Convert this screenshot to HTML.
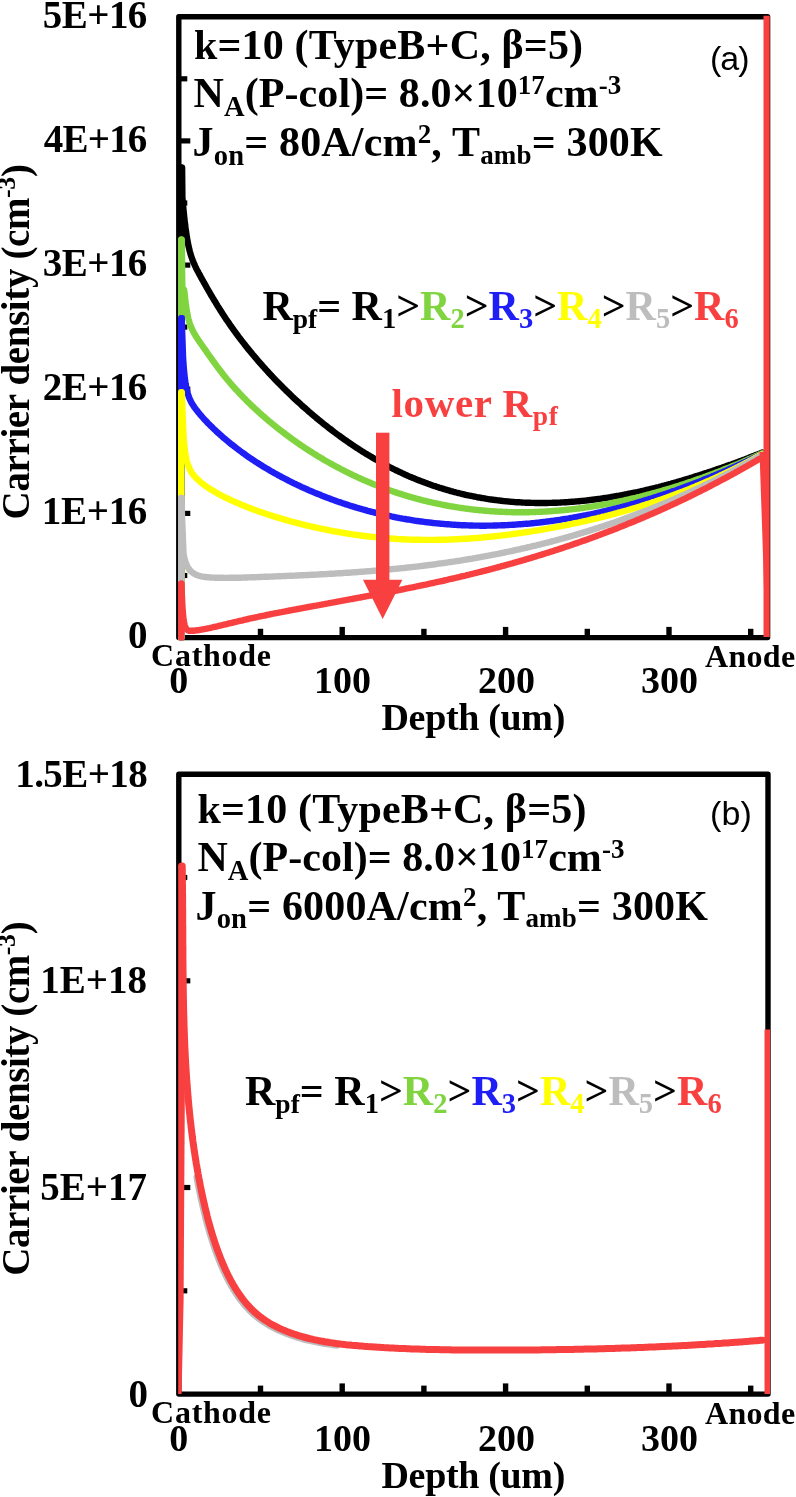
<!DOCTYPE html>
<html><head><meta charset="utf-8"><style>
html,body{margin:0;padding:0;background:#fff;}
svg{display:block;}
</style></head><body>
<svg width="796" height="1497" viewBox="0 0 796 1497">
<rect width="796" height="1497" fill="#fff"/>
<rect x="178.8" y="16.75" width="588.8" height="620.85" fill="none" stroke="#000" stroke-width="5.4" stroke-linejoin="round"/><line x1="178.8" y1="78.8" x2="187.3" y2="78.8" stroke="#000" stroke-width="5.2"/><line x1="178.8" y1="140.9" x2="190.3" y2="140.9" stroke="#000" stroke-width="5.2"/><line x1="178.8" y1="203.0" x2="187.3" y2="203.0" stroke="#000" stroke-width="5.2"/><line x1="178.8" y1="265.1" x2="190.3" y2="265.1" stroke="#000" stroke-width="5.2"/><line x1="178.8" y1="327.1" x2="187.3" y2="327.1" stroke="#000" stroke-width="5.2"/><line x1="178.8" y1="389.2" x2="190.3" y2="389.2" stroke="#000" stroke-width="5.2"/><line x1="178.8" y1="451.3" x2="187.3" y2="451.3" stroke="#000" stroke-width="5.2"/><line x1="178.8" y1="513.4" x2="190.3" y2="513.4" stroke="#000" stroke-width="5.2"/><line x1="178.8" y1="575.5" x2="187.3" y2="575.5" stroke="#000" stroke-width="5.2"/><line x1="260.5" y1="637.6" x2="260.5" y2="628.8" stroke="#000" stroke-width="5.4"/><line x1="342.2" y1="637.6" x2="342.2" y2="626.9" stroke="#000" stroke-width="5.4"/><line x1="423.9" y1="637.6" x2="423.9" y2="628.8" stroke="#000" stroke-width="5.4"/><line x1="505.6" y1="637.6" x2="505.6" y2="626.9" stroke="#000" stroke-width="5.4"/><line x1="587.3" y1="637.6" x2="587.3" y2="628.8" stroke="#000" stroke-width="5.4"/><line x1="669.0" y1="637.6" x2="669.0" y2="626.9" stroke="#000" stroke-width="5.4"/><line x1="750.7" y1="637.6" x2="750.7" y2="628.8" stroke="#000" stroke-width="5.4"/><line x1="181.3" y1="167.6" x2="181.3" y2="637.5" stroke="#000" stroke-width="6.6" stroke-linecap="round"/><path d="M182.1,167.6 L182.4,197.8 L182.4,197.8 L182.4,197.8 L182.4,197.9 L182.4,197.9 L182.4,198.0 L182.4,198.1 L182.4,198.2 L182.5,198.4 L182.5,198.5 L182.5,198.7 L182.5,198.9 L182.5,199.1 L182.5,199.3 L182.6,199.6 L182.6,199.8 L182.6,200.1 L182.6,200.4 L182.7,200.7 L182.7,201.0 L182.7,201.4 L182.7,201.7 L182.8,202.1 L182.8,202.5 L182.9,202.9 L182.9,203.4 L182.9,203.8 L183.0,204.3 L183.0,204.7 L183.1,205.2 L183.1,205.7 L183.2,206.3 L183.2,206.8 L183.3,207.3 L183.3,207.9 L183.4,208.5 L183.4,209.1 L183.5,209.7 L183.5,210.3 L183.6,210.9 L183.7,211.5 L183.7,212.2 L183.8,212.8 L183.9,213.5 L183.9,214.2 L184.0,214.8 L184.1,215.5 L184.2,216.2 L184.2,216.9 L184.3,217.6 L184.4,218.4 L184.5,219.1 L184.5,219.8 L184.6,220.5 L184.7,221.3 L184.8,222.0 L184.9,222.8 L185.0,223.5 L185.1,224.2 L185.2,225.0 L185.3,225.7 L185.3,226.5 L185.4,227.2 L185.5,228.0 L185.6,228.8 L185.7,229.5 L185.9,230.3 L186.0,231.0 L186.1,231.8 L186.2,232.5 L186.3,233.3 L186.4,234.0 L186.5,234.7 L186.6,235.5 L186.7,236.2 L186.9,236.9 L187.0,237.7 L187.1,238.4 L187.2,239.1 L187.3,239.8 L187.5,240.5 L187.6,241.2 L187.7,241.9 L187.9,242.6 L188.0,243.3 L188.1,244.0 L188.3,244.7 L188.4,245.3 L188.5,246.0 L188.7,246.6 L188.8,247.3 L189.0,247.9 L189.1,248.5 L189.3,249.1 L189.4,249.7 L189.6,250.3 L189.7,250.9 L189.9,251.5 L190.0,252.1 L190.2,252.6 L190.3,253.2 L190.5,253.7 L190.6,254.3 L190.8,254.8 L191.0,255.4 L191.1,255.9 L191.3,256.4 L191.5,256.9 L191.6,257.4 L191.8,257.9 L192.0,258.4 L192.2,258.9 L192.3,259.4 L192.5,259.8 L192.7,260.3 L192.9,260.8 L193.1,261.2 L193.3,261.7 L193.4,262.2 L193.6,262.6 L193.8,263.1 L194.0,263.5 L194.2,263.9 L194.4,264.4 L194.6,264.8 L194.8,265.3 L195.0,265.7 L195.2,266.1 L195.4,266.5 L195.6,267.0 L195.8,267.4 L196.0,267.8 L196.2,268.2 L196.4,268.7 L196.6,269.1 L196.8,269.5 L197.1,269.9 L197.3,270.3 L197.5,270.8 L197.7,271.2 L197.9,271.6 L198.2,272.0 L198.4,272.4 L198.6,272.9 L198.8,273.3 L199.1,273.7 L199.3,274.1 L199.5,274.6 L199.8,275.0 L200.0,275.4 L201.3,277.9 L202.7,280.3 L204.0,282.7 L205.4,285.1 L206.7,287.5 L208.0,289.8 L209.4,292.2 L210.7,294.5 L212.1,296.7 L213.4,299.0 L214.8,301.2 L216.1,303.4 L217.4,305.6 L218.8,307.8 L220.1,309.9 L221.5,312.0 L222.8,314.1 L224.1,316.1 L225.5,318.2 L226.8,320.2 L228.2,322.1 L229.5,324.1 L230.8,326.0 L232.2,327.9 L233.5,329.8 L234.9,331.6 L236.2,333.5 L237.6,335.3 L238.9,337.1 L240.2,338.8 L241.6,340.6 L242.9,342.3 L244.3,344.0 L245.6,345.7 L246.9,347.4 L248.3,349.1 L249.6,350.7 L251.0,352.3 L252.3,354.0 L253.7,355.6 L255.0,357.2 L256.3,358.7 L257.7,360.3 L259.0,361.8 L260.4,363.4 L261.7,364.9 L263.0,366.4 L264.4,367.9 L265.7,369.4 L267.1,370.9 L268.4,372.3 L269.7,373.8 L271.1,375.2 L272.4,376.6 L273.8,378.1 L275.1,379.5 L276.5,380.9 L277.8,382.2 L279.1,383.6 L280.5,385.0 L281.8,386.3 L283.2,387.7 L284.5,389.0 L285.8,390.3 L287.2,391.6 L288.5,392.9 L289.9,394.2 L291.2,395.5 L292.5,396.8 L293.9,398.1 L295.2,399.3 L296.6,400.6 L297.9,401.8 L299.3,403.0 L300.6,404.2 L301.9,405.5 L303.3,406.7 L304.6,407.8 L306.0,409.0 L307.3,410.2 L308.6,411.4 L310.0,412.5 L311.3,413.7 L312.7,414.8 L314.0,416.0 L315.4,417.1 L316.7,418.2 L318.0,419.3 L319.4,420.4 L320.7,421.5 L322.1,422.6 L323.4,423.7 L324.7,424.7 L326.1,425.8 L327.4,426.8 L328.8,427.9 L330.1,428.9 L331.4,429.9 L332.8,431.0 L334.1,432.0 L335.5,433.0 L336.8,434.0 L338.2,435.0 L339.5,435.9 L340.8,436.9 L342.2,437.9 L343.5,438.8 L344.9,439.8 L346.2,440.7 L347.5,441.6 L348.9,442.6 L350.2,443.5 L351.6,444.4 L352.9,445.3 L354.2,446.2 L355.6,447.1 L356.9,448.0 L358.3,448.8 L359.6,449.7 L361.0,450.6 L362.3,451.4 L363.6,452.2 L365.0,453.1 L366.3,453.9 L367.7,454.7 L369.0,455.5 L370.3,456.3 L371.7,457.1 L373.0,457.9 L374.4,458.7 L375.7,459.5 L377.1,460.2 L378.4,461.0 L379.7,461.7 L381.1,462.5 L382.4,463.2 L383.8,463.9 L385.1,464.7 L386.4,465.4 L387.8,466.1 L389.1,466.8 L390.5,467.5 L391.8,468.2 L393.1,468.8 L394.5,469.5 L395.8,470.2 L397.2,470.8 L398.5,471.5 L399.9,472.1 L401.2,472.7 L402.5,473.3 L403.9,474.0 L405.2,474.6 L406.6,475.2 L407.9,475.8 L409.2,476.4 L410.6,476.9 L411.9,477.5 L413.3,478.1 L414.6,478.6 L415.9,479.2 L417.3,479.7 L418.6,480.2 L420.0,480.8 L421.3,481.3 L422.7,481.8 L424.0,482.3 L425.3,482.8 L426.7,483.3 L428.0,483.8 L429.4,484.3 L430.7,484.8 L432.0,485.2 L433.4,485.7 L434.7,486.1 L436.1,486.6 L437.4,487.0 L438.7,487.4 L440.1,487.9 L441.4,488.3 L442.8,488.7 L444.1,489.1 L445.5,489.5 L446.8,489.9 L448.1,490.3 L449.5,490.7 L450.8,491.1 L452.2,491.4 L453.5,491.8 L454.8,492.1 L456.2,492.5 L457.5,492.8 L458.9,493.2 L460.2,493.5 L461.6,493.8 L462.9,494.1 L464.2,494.5 L465.6,494.8 L466.9,495.1 L468.3,495.4 L469.6,495.6 L470.9,495.9 L472.3,496.2 L473.6,496.5 L475.0,496.7 L476.3,497.0 L477.6,497.3 L479.0,497.5 L480.3,497.7 L481.7,498.0 L483.0,498.2 L484.4,498.4 L485.7,498.7 L487.0,498.9 L488.4,499.1 L489.7,499.3 L491.1,499.5 L492.4,499.7 L493.7,499.8 L495.1,500.0 L496.4,500.2 L497.8,500.4 L499.1,500.5 L500.4,500.7 L501.8,500.8 L503.1,501.0 L504.5,501.1 L505.8,501.3 L507.2,501.4 L508.5,501.5 L509.8,501.6 L511.2,501.8 L512.5,501.9 L513.9,502.0 L515.2,502.1 L516.5,502.2 L517.9,502.3 L519.2,502.3 L520.6,502.4 L521.9,502.5 L523.3,502.6 L524.6,502.6 L525.9,502.7 L527.3,502.7 L528.6,502.8 L530.0,502.8 L531.3,502.9 L532.6,502.9 L534.0,502.9 L535.3,503.0 L536.7,503.0 L538.0,503.0 L539.3,503.0 L540.7,503.0 L542.0,503.0 L543.4,503.0 L544.7,503.0 L546.1,503.0 L547.4,503.0 L548.7,502.9 L550.1,502.9 L551.4,502.9 L552.8,502.8 L554.1,502.8 L555.4,502.7 L556.8,502.7 L558.1,502.6 L559.5,502.6 L560.8,502.5 L562.1,502.4 L563.5,502.4 L564.8,502.3 L566.2,502.2 L567.5,502.1 L568.9,502.0 L570.2,501.9 L571.5,501.8 L572.9,501.7 L574.2,501.6 L575.6,501.5 L576.9,501.4 L578.2,501.3 L579.6,501.2 L580.9,501.0 L582.3,500.9 L583.6,500.8 L584.9,500.6 L586.3,500.5 L587.6,500.3 L589.0,500.2 L590.3,500.0 L591.7,499.8 L593.0,499.7 L594.3,499.5 L595.7,499.3 L597.0,499.2 L598.4,499.0 L599.7,498.8 L601.0,498.6 L602.4,498.4 L603.7,498.2 L605.1,498.0 L606.4,497.8 L607.8,497.6 L609.1,497.4 L610.4,497.2 L611.8,496.9 L613.1,496.7 L614.5,496.5 L615.8,496.2 L617.1,496.0 L618.5,495.8 L619.8,495.5 L621.2,495.3 L622.5,495.0 L623.8,494.8 L625.2,494.5 L626.5,494.3 L627.9,494.0 L629.2,493.7 L630.6,493.5 L631.9,493.2 L633.2,492.9 L634.6,492.6 L635.9,492.3 L637.3,492.1 L638.6,491.8 L639.9,491.5 L641.3,491.2 L642.6,490.9 L644.0,490.6 L645.3,490.2 L646.6,489.9 L648.0,489.6 L649.3,489.3 L650.7,489.0 L652.0,488.7 L653.4,488.3 L654.7,488.0 L656.0,487.7 L657.4,487.3 L658.7,487.0 L660.1,486.6 L661.4,486.3 L662.7,485.9 L664.1,485.6 L665.4,485.2 L666.8,484.9 L668.1,484.5 L669.5,484.1 L670.8,483.8 L672.1,483.4 L673.5,483.0 L674.8,482.6 L676.2,482.3 L677.5,481.9 L678.8,481.5 L680.2,481.1 L681.5,480.7 L682.9,480.3 L684.2,479.9 L685.5,479.5 L686.9,479.1 L688.2,478.7 L689.6,478.3 L690.9,477.9 L692.3,477.5 L693.6,477.1 L694.9,476.6 L696.3,476.2 L697.6,475.8 L699.0,475.4 L700.3,474.9 L701.6,474.5 L703.0,474.1 L704.3,473.6 L705.7,473.2 L707.0,472.8 L708.3,472.3 L709.7,471.9 L711.0,471.4 L712.4,471.0 L713.7,470.5 L715.1,470.0 L716.4,469.6 L717.7,469.1 L719.1,468.7 L720.4,468.2 L721.8,467.7 L723.1,467.2 L724.4,466.8 L725.8,466.3 L727.1,465.8 L728.5,465.3 L729.8,464.9 L731.2,464.4 L732.5,463.9 L733.8,463.4 L735.2,462.9 L736.5,462.4 L737.9,461.9 L739.2,461.4 L740.5,460.9 L741.9,460.4 L743.2,459.9 L744.6,459.4 L745.9,458.9 L747.2,458.4 L748.6,457.9 L749.9,457.3 L751.3,456.8 L752.6,456.3 L754.0,455.8 L755.3,455.3 L756.6,454.7 L758.0,454.2 L759.3,453.7 L760.7,453.2 L762.0,452.6" fill="none" stroke="#000" stroke-width="6.4" stroke-linejoin="round" stroke-linecap="round"/><line x1="181.3" y1="239.6" x2="181.3" y2="637.5" stroke="#80D43F" stroke-width="6.6" stroke-linecap="round"/><path d="M181.7,239.6 L182.1,270.0 L182.1,270.1 L182.1,270.3 L182.1,270.8 L182.1,271.4 L182.1,272.1 L182.1,273.0 L182.1,274.0 L182.2,275.1 L182.2,276.3 L182.2,277.6 L182.2,279.0 L182.2,280.4 L182.2,281.9 L182.3,283.3 L182.3,284.8 L182.3,286.2 L182.3,287.5 L182.4,288.8 L182.4,290.1 L182.4,291.2 L182.5,292.2 L182.5,293.1 L182.5,293.9 L182.6,294.6 L182.6,295.1 L182.6,295.5 L182.7,295.8 L182.7,295.9 L182.8,295.9 L182.8,295.8 L182.9,295.6 L182.9,295.2 L183.0,294.8 L183.0,294.3 L183.1,293.7 L183.1,293.1 L183.2,292.5 L183.3,291.9 L183.3,291.3 L183.4,290.7 L183.5,290.2 L183.5,289.8 L183.6,289.5 L183.7,289.3 L183.7,289.2 L183.8,289.2 L183.9,289.4 L184.0,289.5 L184.0,289.8 L184.1,290.2 L184.2,290.6 L184.3,291.1 L184.4,291.7 L184.5,292.3 L184.5,293.0 L184.6,293.8 L184.7,294.5 L184.8,295.3 L184.9,296.2 L185.0,297.0 L185.1,297.9 L185.2,298.8 L185.3,299.7 L185.4,300.6 L185.5,301.5 L185.6,302.4 L185.7,303.2 L185.8,304.1 L185.9,304.9 L186.1,305.8 L186.2,306.6 L186.3,307.4 L186.4,308.2 L186.5,309.0 L186.6,309.8 L186.8,310.5 L186.9,311.2 L187.0,312.0 L187.1,312.7 L187.3,313.4 L187.4,314.1 L187.5,314.7 L187.7,315.4 L187.8,316.0 L187.9,316.6 L188.1,317.2 L188.2,317.8 L188.3,318.4 L188.5,319.0 L188.6,319.5 L188.8,320.1 L188.9,320.6 L189.1,321.1 L189.2,321.7 L189.4,322.2 L189.5,322.7 L189.7,323.1 L189.8,323.6 L190.0,324.1 L190.2,324.5 L190.3,325.0 L190.5,325.4 L190.7,325.9 L190.8,326.3 L191.0,326.7 L191.2,327.1 L191.3,327.5 L191.5,327.9 L191.7,328.3 L191.9,328.7 L192.0,329.1 L192.2,329.5 L192.4,329.9 L192.6,330.3 L192.8,330.6 L192.9,331.0 L193.1,331.4 L193.3,331.7 L193.5,332.1 L193.7,332.4 L193.9,332.8 L194.1,333.2 L194.3,333.5 L194.5,333.9 L194.7,334.2 L194.9,334.5 L195.1,334.9 L195.3,335.2 L195.5,335.6 L195.7,335.9 L195.9,336.3 L196.1,336.6 L196.4,336.9 L196.6,337.3 L196.8,337.6 L197.0,337.9 L197.2,338.3 L197.5,338.6 L197.7,339.0 L197.9,339.3 L198.1,339.6 L198.4,340.0 L198.6,340.3 L198.8,340.6 L199.1,341.0 L199.3,341.3 L199.5,341.7 L199.8,342.0 L200.0,342.4 L201.3,344.3 L202.7,346.2 L204.0,348.1 L205.4,350.0 L206.7,351.9 L208.0,353.9 L209.4,355.8 L210.7,357.7 L212.1,359.6 L213.4,361.5 L214.8,363.3 L216.1,365.2 L217.4,367.0 L218.8,368.8 L220.1,370.5 L221.5,372.3 L222.8,374.0 L224.1,375.7 L225.5,377.4 L226.8,379.0 L228.2,380.6 L229.5,382.2 L230.8,383.8 L232.2,385.3 L233.5,386.8 L234.9,388.3 L236.2,389.8 L237.6,391.2 L238.9,392.7 L240.2,394.1 L241.6,395.5 L242.9,396.9 L244.3,398.3 L245.6,399.6 L246.9,401.0 L248.3,402.3 L249.6,403.6 L251.0,404.9 L252.3,406.2 L253.7,407.4 L255.0,408.7 L256.3,409.9 L257.7,411.2 L259.0,412.4 L260.4,413.6 L261.7,414.8 L263.0,416.0 L264.4,417.1 L265.7,418.3 L267.1,419.4 L268.4,420.6 L269.7,421.7 L271.1,422.8 L272.4,423.9 L273.8,425.0 L275.1,426.1 L276.5,427.2 L277.8,428.2 L279.1,429.3 L280.5,430.3 L281.8,431.4 L283.2,432.4 L284.5,433.4 L285.8,434.4 L287.2,435.4 L288.5,436.4 L289.9,437.4 L291.2,438.4 L292.5,439.3 L293.9,440.3 L295.2,441.3 L296.6,442.2 L297.9,443.1 L299.3,444.1 L300.6,445.0 L301.9,445.9 L303.3,446.8 L304.6,447.7 L306.0,448.6 L307.3,449.4 L308.6,450.3 L310.0,451.2 L311.3,452.0 L312.7,452.9 L314.0,453.7 L315.4,454.5 L316.7,455.4 L318.0,456.2 L319.4,457.0 L320.7,457.8 L322.1,458.6 L323.4,459.4 L324.7,460.2 L326.1,461.0 L327.4,461.7 L328.8,462.5 L330.1,463.2 L331.4,464.0 L332.8,464.7 L334.1,465.5 L335.5,466.2 L336.8,466.9 L338.2,467.6 L339.5,468.3 L340.8,469.0 L342.2,469.7 L343.5,470.4 L344.9,471.1 L346.2,471.8 L347.5,472.4 L348.9,473.1 L350.2,473.8 L351.6,474.4 L352.9,475.1 L354.2,475.7 L355.6,476.3 L356.9,476.9 L358.3,477.6 L359.6,478.2 L361.0,478.8 L362.3,479.4 L363.6,480.0 L365.0,480.6 L366.3,481.1 L367.7,481.7 L369.0,482.3 L370.3,482.8 L371.7,483.4 L373.0,483.9 L374.4,484.5 L375.7,485.0 L377.1,485.6 L378.4,486.1 L379.7,486.6 L381.1,487.1 L382.4,487.6 L383.8,488.1 L385.1,488.6 L386.4,489.1 L387.8,489.6 L389.1,490.1 L390.5,490.6 L391.8,491.0 L393.1,491.5 L394.5,491.9 L395.8,492.4 L397.2,492.8 L398.5,493.3 L399.9,493.7 L401.2,494.1 L402.5,494.6 L403.9,495.0 L405.2,495.4 L406.6,495.8 L407.9,496.2 L409.2,496.6 L410.6,497.0 L411.9,497.4 L413.3,497.7 L414.6,498.1 L415.9,498.5 L417.3,498.9 L418.6,499.2 L420.0,499.6 L421.3,499.9 L422.7,500.3 L424.0,500.6 L425.3,500.9 L426.7,501.2 L428.0,501.6 L429.4,501.9 L430.7,502.2 L432.0,502.5 L433.4,502.8 L434.7,503.1 L436.1,503.4 L437.4,503.7 L438.7,504.0 L440.1,504.2 L441.4,504.5 L442.8,504.8 L444.1,505.0 L445.5,505.3 L446.8,505.5 L448.1,505.8 L449.5,506.0 L450.8,506.3 L452.2,506.5 L453.5,506.7 L454.8,507.0 L456.2,507.2 L457.5,507.4 L458.9,507.6 L460.2,507.8 L461.6,508.0 L462.9,508.2 L464.2,508.4 L465.6,508.6 L466.9,508.7 L468.3,508.9 L469.6,509.1 L470.9,509.3 L472.3,509.4 L473.6,509.6 L475.0,509.7 L476.3,509.9 L477.6,510.0 L479.0,510.2 L480.3,510.3 L481.7,510.4 L483.0,510.5 L484.4,510.7 L485.7,510.8 L487.0,510.9 L488.4,511.0 L489.7,511.1 L491.1,511.2 L492.4,511.3 L493.7,511.4 L495.1,511.5 L496.4,511.5 L497.8,511.6 L499.1,511.7 L500.4,511.7 L501.8,511.8 L503.1,511.9 L504.5,511.9 L505.8,512.0 L507.2,512.0 L508.5,512.1 L509.8,512.1 L511.2,512.1 L512.5,512.2 L513.9,512.2 L515.2,512.2 L516.5,512.2 L517.9,512.2 L519.2,512.2 L520.6,512.2 L521.9,512.2 L523.3,512.2 L524.6,512.2 L525.9,512.2 L527.3,512.2 L528.6,512.2 L530.0,512.1 L531.3,512.1 L532.6,512.1 L534.0,512.0 L535.3,512.0 L536.7,511.9 L538.0,511.9 L539.3,511.8 L540.7,511.8 L542.0,511.7 L543.4,511.6 L544.7,511.6 L546.1,511.5 L547.4,511.4 L548.7,511.3 L550.1,511.2 L551.4,511.1 L552.8,511.0 L554.1,510.9 L555.4,510.8 L556.8,510.7 L558.1,510.6 L559.5,510.5 L560.8,510.4 L562.1,510.3 L563.5,510.1 L564.8,510.0 L566.2,509.9 L567.5,509.7 L568.9,509.6 L570.2,509.4 L571.5,509.3 L572.9,509.1 L574.2,509.0 L575.6,508.8 L576.9,508.6 L578.2,508.5 L579.6,508.3 L580.9,508.1 L582.3,508.0 L583.6,507.8 L584.9,507.6 L586.3,507.4 L587.6,507.2 L589.0,507.0 L590.3,506.8 L591.7,506.6 L593.0,506.4 L594.3,506.2 L595.7,505.9 L597.0,505.7 L598.4,505.5 L599.7,505.3 L601.0,505.0 L602.4,504.8 L603.7,504.6 L605.1,504.3 L606.4,504.1 L607.8,503.8 L609.1,503.6 L610.4,503.3 L611.8,503.0 L613.1,502.8 L614.5,502.5 L615.8,502.2 L617.1,502.0 L618.5,501.7 L619.8,501.4 L621.2,501.1 L622.5,500.8 L623.8,500.5 L625.2,500.2 L626.5,499.9 L627.9,499.6 L629.2,499.3 L630.6,499.0 L631.9,498.7 L633.2,498.4 L634.6,498.1 L635.9,497.8 L637.3,497.4 L638.6,497.1 L639.9,496.8 L641.3,496.4 L642.6,496.1 L644.0,495.7 L645.3,495.4 L646.6,495.0 L648.0,494.7 L649.3,494.3 L650.7,494.0 L652.0,493.6 L653.4,493.2 L654.7,492.9 L656.0,492.5 L657.4,492.1 L658.7,491.7 L660.1,491.4 L661.4,491.0 L662.7,490.6 L664.1,490.2 L665.4,489.8 L666.8,489.4 L668.1,489.0 L669.5,488.6 L670.8,488.2 L672.1,487.8 L673.5,487.4 L674.8,486.9 L676.2,486.5 L677.5,486.1 L678.8,485.7 L680.2,485.2 L681.5,484.8 L682.9,484.4 L684.2,483.9 L685.5,483.5 L686.9,483.0 L688.2,482.6 L689.6,482.1 L690.9,481.7 L692.3,481.2 L693.6,480.8 L694.9,480.3 L696.3,479.8 L697.6,479.3 L699.0,478.9 L700.3,478.4 L701.6,477.9 L703.0,477.4 L704.3,476.9 L705.7,476.5 L707.0,476.0 L708.3,475.5 L709.7,475.0 L711.0,474.5 L712.4,474.0 L713.7,473.5 L715.1,473.0 L716.4,472.4 L717.7,471.9 L719.1,471.4 L720.4,470.9 L721.8,470.4 L723.1,469.8 L724.4,469.3 L725.8,468.8 L727.1,468.2 L728.5,467.7 L729.8,467.2 L731.2,466.6 L732.5,466.1 L733.8,465.5 L735.2,465.0 L736.5,464.4 L737.9,463.9 L739.2,463.3 L740.5,462.7 L741.9,462.2 L743.2,461.6 L744.6,461.0 L745.9,460.4 L747.2,459.9 L748.6,459.3 L749.9,458.7 L751.3,458.1 L752.6,457.5 L754.0,456.9 L755.3,456.3 L756.6,455.8 L758.0,455.2 L759.3,454.5 L760.7,453.9 L762.0,453.3" fill="none" stroke="#80D43F" stroke-width="6.4" stroke-linejoin="round" stroke-linecap="round"/><line x1="181.3" y1="318.3" x2="181.3" y2="637.5" stroke="#1E1EF5" stroke-width="6.6" stroke-linecap="round"/><path d="M181.7,318.3 L183.0,355.8 L183.0,355.8 L183.0,355.8 L183.0,355.9 L183.0,356.0 L183.0,356.1 L183.0,356.3 L183.0,356.5 L183.0,356.7 L183.1,356.9 L183.1,357.2 L183.1,357.4 L183.1,357.7 L183.1,358.1 L183.2,358.4 L183.2,358.8 L183.2,359.2 L183.2,359.6 L183.2,360.1 L183.3,360.5 L183.3,361.0 L183.3,361.5 L183.4,362.0 L183.4,362.5 L183.4,363.0 L183.5,363.6 L183.5,364.1 L183.6,364.7 L183.6,365.3 L183.6,365.8 L183.7,366.4 L183.7,367.0 L183.8,367.6 L183.8,368.3 L183.9,368.9 L183.9,369.5 L184.0,370.1 L184.0,370.7 L184.1,371.4 L184.2,372.0 L184.2,372.6 L184.3,373.2 L184.4,373.9 L184.4,374.5 L184.5,375.1 L184.6,375.7 L184.6,376.4 L184.7,377.0 L184.8,377.6 L184.8,378.2 L184.9,378.8 L185.0,379.4 L185.1,380.0 L185.2,380.6 L185.2,381.1 L185.3,381.7 L185.4,382.3 L185.5,382.9 L185.6,383.4 L185.7,384.0 L185.8,384.5 L185.8,385.1 L185.9,385.6 L186.0,386.1 L186.1,386.6 L186.2,387.1 L186.3,387.6 L186.4,388.1 L186.5,388.6 L186.6,389.1 L186.8,389.6 L186.9,390.1 L187.0,390.5 L187.1,391.0 L187.2,391.4 L187.3,391.9 L187.4,392.3 L187.5,392.7 L187.7,393.2 L187.8,393.6 L187.9,394.0 L188.0,394.4 L188.1,394.8 L188.3,395.2 L188.4,395.6 L188.5,395.9 L188.7,396.3 L188.8,396.7 L188.9,397.1 L189.1,397.4 L189.2,397.8 L189.3,398.1 L189.5,398.5 L189.6,398.8 L189.8,399.1 L189.9,399.5 L190.1,399.8 L190.2,400.1 L190.4,400.4 L190.5,400.7 L190.7,401.0 L190.8,401.3 L191.0,401.7 L191.1,402.0 L191.3,402.2 L191.4,402.5 L191.6,402.8 L191.8,403.1 L191.9,403.4 L192.1,403.7 L192.3,404.0 L192.4,404.2 L192.6,404.5 L192.8,404.8 L193.0,405.1 L193.1,405.3 L193.3,405.6 L193.5,405.9 L193.7,406.1 L193.8,406.4 L194.0,406.7 L194.2,406.9 L194.4,407.2 L194.6,407.4 L194.8,407.7 L195.0,408.0 L195.2,408.2 L195.4,408.5 L195.5,408.8 L195.7,409.0 L195.9,409.3 L196.1,409.5 L196.3,409.8 L196.5,410.1 L196.7,410.3 L197.0,410.6 L197.2,410.9 L197.4,411.1 L197.6,411.4 L197.8,411.7 L198.0,411.9 L198.2,412.2 L198.4,412.5 L198.7,412.7 L198.9,413.0 L199.1,413.3 L199.3,413.6 L199.5,413.8 L199.8,414.1 L200.0,414.4 L201.3,415.9 L202.7,417.5 L204.0,419.0 L205.4,420.4 L206.7,421.8 L208.0,423.2 L209.4,424.6 L210.7,425.9 L212.1,427.2 L213.4,428.5 L214.8,429.8 L216.1,431.1 L217.4,432.3 L218.8,433.5 L220.1,434.7 L221.5,435.9 L222.8,437.1 L224.1,438.2 L225.5,439.3 L226.8,440.5 L228.2,441.6 L229.5,442.7 L230.8,443.8 L232.2,444.8 L233.5,445.9 L234.9,446.9 L236.2,448.0 L237.6,449.0 L238.9,450.0 L240.2,451.0 L241.6,452.0 L242.9,453.0 L244.3,453.9 L245.6,454.9 L246.9,455.8 L248.3,456.8 L249.6,457.7 L251.0,458.6 L252.3,459.5 L253.7,460.4 L255.0,461.3 L256.3,462.2 L257.7,463.0 L259.0,463.9 L260.4,464.7 L261.7,465.6 L263.0,466.4 L264.4,467.2 L265.7,468.0 L267.1,468.8 L268.4,469.6 L269.7,470.4 L271.1,471.2 L272.4,471.9 L273.8,472.7 L275.1,473.5 L276.5,474.2 L277.8,474.9 L279.1,475.7 L280.5,476.4 L281.8,477.1 L283.2,477.8 L284.5,478.5 L285.8,479.2 L287.2,479.9 L288.5,480.6 L289.9,481.3 L291.2,482.0 L292.5,482.6 L293.9,483.3 L295.2,483.9 L296.6,484.6 L297.9,485.2 L299.3,485.8 L300.6,486.5 L301.9,487.1 L303.3,487.7 L304.6,488.3 L306.0,488.9 L307.3,489.5 L308.6,490.1 L310.0,490.7 L311.3,491.3 L312.7,491.8 L314.0,492.4 L315.4,493.0 L316.7,493.5 L318.0,494.1 L319.4,494.6 L320.7,495.1 L322.1,495.7 L323.4,496.2 L324.7,496.7 L326.1,497.3 L327.4,497.8 L328.8,498.3 L330.1,498.8 L331.4,499.3 L332.8,499.8 L334.1,500.2 L335.5,500.7 L336.8,501.2 L338.2,501.7 L339.5,502.1 L340.8,502.6 L342.2,503.1 L343.5,503.5 L344.9,503.9 L346.2,504.4 L347.5,504.8 L348.9,505.3 L350.2,505.7 L351.6,506.1 L352.9,506.5 L354.2,506.9 L355.6,507.3 L356.9,507.7 L358.3,508.1 L359.6,508.5 L361.0,508.9 L362.3,509.3 L363.6,509.7 L365.0,510.0 L366.3,510.4 L367.7,510.8 L369.0,511.1 L370.3,511.5 L371.7,511.8 L373.0,512.2 L374.4,512.5 L375.7,512.8 L377.1,513.2 L378.4,513.5 L379.7,513.8 L381.1,514.1 L382.4,514.4 L383.8,514.7 L385.1,515.0 L386.4,515.3 L387.8,515.6 L389.1,515.9 L390.5,516.2 L391.8,516.5 L393.1,516.8 L394.5,517.0 L395.8,517.3 L397.2,517.6 L398.5,517.8 L399.9,518.1 L401.2,518.3 L402.5,518.6 L403.9,518.8 L405.2,519.0 L406.6,519.3 L407.9,519.5 L409.2,519.7 L410.6,519.9 L411.9,520.1 L413.3,520.4 L414.6,520.6 L415.9,520.8 L417.3,521.0 L418.6,521.2 L420.0,521.3 L421.3,521.5 L422.7,521.7 L424.0,521.9 L425.3,522.1 L426.7,522.2 L428.0,522.4 L429.4,522.5 L430.7,522.7 L432.0,522.8 L433.4,523.0 L434.7,523.1 L436.1,523.3 L437.4,523.4 L438.7,523.5 L440.1,523.7 L441.4,523.8 L442.8,523.9 L444.1,524.0 L445.5,524.1 L446.8,524.2 L448.1,524.3 L449.5,524.4 L450.8,524.5 L452.2,524.6 L453.5,524.7 L454.8,524.8 L456.2,524.9 L457.5,525.0 L458.9,525.0 L460.2,525.1 L461.6,525.2 L462.9,525.2 L464.2,525.3 L465.6,525.3 L466.9,525.4 L468.3,525.4 L469.6,525.5 L470.9,525.5 L472.3,525.5 L473.6,525.6 L475.0,525.6 L476.3,525.6 L477.6,525.6 L479.0,525.6 L480.3,525.7 L481.7,525.7 L483.0,525.7 L484.4,525.7 L485.7,525.7 L487.0,525.6 L488.4,525.6 L489.7,525.6 L491.1,525.6 L492.4,525.6 L493.7,525.5 L495.1,525.5 L496.4,525.5 L497.8,525.4 L499.1,525.4 L500.4,525.4 L501.8,525.3 L503.1,525.3 L504.5,525.2 L505.8,525.1 L507.2,525.1 L508.5,525.0 L509.8,524.9 L511.2,524.9 L512.5,524.8 L513.9,524.7 L515.2,524.6 L516.5,524.5 L517.9,524.4 L519.2,524.3 L520.6,524.2 L521.9,524.1 L523.3,524.0 L524.6,523.9 L525.9,523.8 L527.3,523.7 L528.6,523.6 L530.0,523.5 L531.3,523.3 L532.6,523.2 L534.0,523.1 L535.3,522.9 L536.7,522.8 L538.0,522.6 L539.3,522.5 L540.7,522.3 L542.0,522.2 L543.4,522.0 L544.7,521.9 L546.1,521.7 L547.4,521.5 L548.7,521.4 L550.1,521.2 L551.4,521.0 L552.8,520.8 L554.1,520.6 L555.4,520.4 L556.8,520.3 L558.1,520.1 L559.5,519.9 L560.8,519.7 L562.1,519.4 L563.5,519.2 L564.8,519.0 L566.2,518.8 L567.5,518.6 L568.9,518.4 L570.2,518.1 L571.5,517.9 L572.9,517.7 L574.2,517.4 L575.6,517.2 L576.9,517.0 L578.2,516.7 L579.6,516.5 L580.9,516.2 L582.3,516.0 L583.6,515.7 L584.9,515.4 L586.3,515.2 L587.6,514.9 L589.0,514.6 L590.3,514.4 L591.7,514.1 L593.0,513.8 L594.3,513.5 L595.7,513.2 L597.0,512.9 L598.4,512.6 L599.7,512.3 L601.0,512.0 L602.4,511.7 L603.7,511.4 L605.1,511.1 L606.4,510.8 L607.8,510.5 L609.1,510.2 L610.4,509.8 L611.8,509.5 L613.1,509.2 L614.5,508.8 L615.8,508.5 L617.1,508.2 L618.5,507.8 L619.8,507.5 L621.2,507.1 L622.5,506.8 L623.8,506.4 L625.2,506.1 L626.5,505.7 L627.9,505.3 L629.2,505.0 L630.6,504.6 L631.9,504.2 L633.2,503.9 L634.6,503.5 L635.9,503.1 L637.3,502.7 L638.6,502.3 L639.9,501.9 L641.3,501.5 L642.6,501.1 L644.0,500.7 L645.3,500.3 L646.6,499.9 L648.0,499.5 L649.3,499.1 L650.7,498.7 L652.0,498.3 L653.4,497.8 L654.7,497.4 L656.0,497.0 L657.4,496.6 L658.7,496.1 L660.1,495.7 L661.4,495.2 L662.7,494.8 L664.1,494.4 L665.4,493.9 L666.8,493.4 L668.1,493.0 L669.5,492.5 L670.8,492.1 L672.1,491.6 L673.5,491.1 L674.8,490.7 L676.2,490.2 L677.5,489.7 L678.8,489.2 L680.2,488.8 L681.5,488.3 L682.9,487.8 L684.2,487.3 L685.5,486.8 L686.9,486.3 L688.2,485.8 L689.6,485.3 L690.9,484.8 L692.3,484.3 L693.6,483.8 L694.9,483.3 L696.3,482.8 L697.6,482.2 L699.0,481.7 L700.3,481.2 L701.6,480.7 L703.0,480.1 L704.3,479.6 L705.7,479.1 L707.0,478.5 L708.3,478.0 L709.7,477.4 L711.0,476.9 L712.4,476.3 L713.7,475.8 L715.1,475.2 L716.4,474.7 L717.7,474.1 L719.1,473.5 L720.4,473.0 L721.8,472.4 L723.1,471.8 L724.4,471.2 L725.8,470.7 L727.1,470.1 L728.5,469.5 L729.8,468.9 L731.2,468.3 L732.5,467.7 L733.8,467.1 L735.2,466.5 L736.5,465.9 L737.9,465.3 L739.2,464.7 L740.5,464.1 L741.9,463.5 L743.2,462.9 L744.6,462.3 L745.9,461.7 L747.2,461.0 L748.6,460.4 L749.9,459.8 L751.3,459.1 L752.6,458.5 L754.0,457.9 L755.3,457.2 L756.6,456.6 L758.0,456.0 L759.3,455.3 L760.7,454.7 L762.0,454.0" fill="none" stroke="#1E1EF5" stroke-width="6.4" stroke-linejoin="round" stroke-linecap="round"/><line x1="181.3" y1="392.4" x2="181.3" y2="637.5" stroke="#FFFF00" stroke-width="6.6" stroke-linecap="round"/><path d="M181.7,392.4 L183.5,435.4 L183.5,435.4 L183.5,435.5 L183.5,435.5 L183.5,435.6 L183.5,435.7 L183.5,435.8 L183.5,436.0 L183.5,436.2 L183.6,436.4 L183.6,436.6 L183.6,436.8 L183.6,437.1 L183.6,437.3 L183.6,437.6 L183.7,437.9 L183.7,438.2 L183.7,438.6 L183.7,438.9 L183.8,439.3 L183.8,439.7 L183.8,440.1 L183.9,440.5 L183.9,440.9 L183.9,441.4 L184.0,441.8 L184.0,442.3 L184.0,442.7 L184.1,443.2 L184.1,443.7 L184.2,444.1 L184.2,444.6 L184.3,445.1 L184.3,445.6 L184.4,446.1 L184.4,446.6 L184.5,447.1 L184.5,447.6 L184.6,448.1 L184.6,448.6 L184.7,449.1 L184.7,449.6 L184.8,450.1 L184.9,450.6 L184.9,451.1 L185.0,451.5 L185.1,452.0 L185.1,452.5 L185.2,453.0 L185.3,453.5 L185.4,453.9 L185.4,454.4 L185.5,454.8 L185.6,455.3 L185.7,455.7 L185.7,456.2 L185.8,456.6 L185.9,457.1 L186.0,457.5 L186.1,457.9 L186.2,458.3 L186.3,458.7 L186.4,459.1 L186.4,459.5 L186.5,459.9 L186.6,460.3 L186.7,460.7 L186.8,461.1 L186.9,461.4 L187.0,461.8 L187.1,462.2 L187.2,462.5 L187.4,462.9 L187.5,463.2 L187.6,463.6 L187.7,463.9 L187.8,464.2 L187.9,464.6 L188.0,464.9 L188.1,465.2 L188.3,465.5 L188.4,465.8 L188.5,466.2 L188.6,466.5 L188.7,466.8 L188.9,467.1 L189.0,467.4 L189.1,467.7 L189.3,468.0 L189.4,468.3 L189.5,468.5 L189.7,468.8 L189.8,469.1 L189.9,469.4 L190.1,469.7 L190.2,469.9 L190.3,470.2 L190.5,470.5 L190.6,470.7 L190.8,471.0 L190.9,471.3 L191.1,471.5 L191.2,471.8 L191.4,472.0 L191.5,472.3 L191.7,472.5 L191.9,472.7 L192.0,473.0 L192.2,473.2 L192.3,473.5 L192.5,473.7 L192.7,473.9 L192.8,474.2 L193.0,474.4 L193.2,474.6 L193.3,474.8 L193.5,475.0 L193.7,475.3 L193.8,475.5 L194.0,475.7 L194.2,475.9 L194.4,476.1 L194.6,476.3 L194.7,476.5 L194.9,476.7 L195.1,477.0 L195.3,477.2 L195.5,477.4 L195.7,477.6 L195.9,477.8 L196.1,478.0 L196.3,478.2 L196.4,478.4 L196.6,478.6 L196.8,478.8 L197.0,478.9 L197.2,479.1 L197.4,479.3 L197.7,479.5 L197.9,479.7 L198.1,479.9 L198.3,480.1 L198.5,480.3 L198.7,480.5 L198.9,480.7 L199.1,480.9 L199.3,481.1 L199.6,481.2 L199.8,481.4 L200.0,481.6 L201.3,482.7 L202.7,483.8 L204.0,484.8 L205.4,485.8 L206.7,486.7 L208.0,487.7 L209.4,488.5 L210.7,489.4 L212.1,490.2 L213.4,491.0 L214.8,491.8 L216.1,492.6 L217.4,493.3 L218.8,494.1 L220.1,494.8 L221.5,495.5 L222.8,496.2 L224.1,496.9 L225.5,497.5 L226.8,498.2 L228.2,498.8 L229.5,499.5 L230.8,500.1 L232.2,500.7 L233.5,501.3 L234.9,501.9 L236.2,502.5 L237.6,503.1 L238.9,503.6 L240.2,504.2 L241.6,504.8 L242.9,505.3 L244.3,505.8 L245.6,506.4 L246.9,506.9 L248.3,507.4 L249.6,508.0 L251.0,508.5 L252.3,509.0 L253.7,509.5 L255.0,510.0 L256.3,510.5 L257.7,510.9 L259.0,511.4 L260.4,511.9 L261.7,512.4 L263.0,512.8 L264.4,513.3 L265.7,513.7 L267.1,514.2 L268.4,514.6 L269.7,515.1 L271.1,515.5 L272.4,515.9 L273.8,516.3 L275.1,516.8 L276.5,517.2 L277.8,517.6 L279.1,518.0 L280.5,518.4 L281.8,518.8 L283.2,519.2 L284.5,519.6 L285.8,520.0 L287.2,520.3 L288.5,520.7 L289.9,521.1 L291.2,521.5 L292.5,521.8 L293.9,522.2 L295.2,522.5 L296.6,522.9 L297.9,523.2 L299.3,523.6 L300.6,523.9 L301.9,524.3 L303.3,524.6 L304.6,524.9 L306.0,525.3 L307.3,525.6 L308.6,525.9 L310.0,526.2 L311.3,526.5 L312.7,526.8 L314.0,527.1 L315.4,527.4 L316.7,527.7 L318.0,528.0 L319.4,528.3 L320.7,528.6 L322.1,528.9 L323.4,529.2 L324.7,529.4 L326.1,529.7 L327.4,530.0 L328.8,530.2 L330.1,530.5 L331.4,530.8 L332.8,531.0 L334.1,531.3 L335.5,531.5 L336.8,531.7 L338.2,532.0 L339.5,532.2 L340.8,532.5 L342.2,532.7 L343.5,532.9 L344.9,533.1 L346.2,533.3 L347.5,533.6 L348.9,533.8 L350.2,534.0 L351.6,534.2 L352.9,534.4 L354.2,534.6 L355.6,534.8 L356.9,535.0 L358.3,535.1 L359.6,535.3 L361.0,535.5 L362.3,535.7 L363.6,535.8 L365.0,536.0 L366.3,536.2 L367.7,536.3 L369.0,536.5 L370.3,536.6 L371.7,536.8 L373.0,536.9 L374.4,537.1 L375.7,537.2 L377.1,537.4 L378.4,537.5 L379.7,537.6 L381.1,537.8 L382.4,537.9 L383.8,538.0 L385.1,538.1 L386.4,538.2 L387.8,538.3 L389.1,538.4 L390.5,538.5 L391.8,538.6 L393.1,538.7 L394.5,538.8 L395.8,538.9 L397.2,539.0 L398.5,539.1 L399.9,539.1 L401.2,539.2 L402.5,539.3 L403.9,539.3 L405.2,539.4 L406.6,539.5 L407.9,539.5 L409.2,539.6 L410.6,539.6 L411.9,539.7 L413.3,539.7 L414.6,539.7 L415.9,539.8 L417.3,539.8 L418.6,539.8 L420.0,539.8 L421.3,539.9 L422.7,539.9 L424.0,539.9 L425.3,539.9 L426.7,539.9 L428.0,539.9 L429.4,539.9 L430.7,539.9 L432.0,539.9 L433.4,539.9 L434.7,539.9 L436.1,539.9 L437.4,539.8 L438.7,539.8 L440.1,539.8 L441.4,539.8 L442.8,539.7 L444.1,539.7 L445.5,539.7 L446.8,539.6 L448.1,539.6 L449.5,539.5 L450.8,539.5 L452.2,539.4 L453.5,539.4 L454.8,539.3 L456.2,539.3 L457.5,539.2 L458.9,539.1 L460.2,539.0 L461.6,539.0 L462.9,538.9 L464.2,538.8 L465.6,538.7 L466.9,538.7 L468.3,538.6 L469.6,538.5 L470.9,538.4 L472.3,538.3 L473.6,538.2 L475.0,538.1 L476.3,538.0 L477.6,537.9 L479.0,537.8 L480.3,537.6 L481.7,537.5 L483.0,537.4 L484.4,537.3 L485.7,537.2 L487.0,537.0 L488.4,536.9 L489.7,536.8 L491.1,536.6 L492.4,536.5 L493.7,536.4 L495.1,536.2 L496.4,536.1 L497.8,535.9 L499.1,535.8 L500.4,535.6 L501.8,535.4 L503.1,535.3 L504.5,535.1 L505.8,535.0 L507.2,534.8 L508.5,534.6 L509.8,534.5 L511.2,534.3 L512.5,534.1 L513.9,533.9 L515.2,533.7 L516.5,533.6 L517.9,533.4 L519.2,533.2 L520.6,533.0 L521.9,532.8 L523.3,532.6 L524.6,532.4 L525.9,532.2 L527.3,532.0 L528.6,531.8 L530.0,531.6 L531.3,531.4 L532.6,531.2 L534.0,530.9 L535.3,530.7 L536.7,530.5 L538.0,530.3 L539.3,530.1 L540.7,529.8 L542.0,529.6 L543.4,529.4 L544.7,529.1 L546.1,528.9 L547.4,528.7 L548.7,528.4 L550.1,528.2 L551.4,527.9 L552.8,527.7 L554.1,527.4 L555.4,527.2 L556.8,526.9 L558.1,526.7 L559.5,526.4 L560.8,526.1 L562.1,525.9 L563.5,525.6 L564.8,525.4 L566.2,525.1 L567.5,524.8 L568.9,524.5 L570.2,524.3 L571.5,524.0 L572.9,523.7 L574.2,523.4 L575.6,523.1 L576.9,522.8 L578.2,522.6 L579.6,522.3 L580.9,522.0 L582.3,521.7 L583.6,521.4 L584.9,521.1 L586.3,520.8 L587.6,520.5 L589.0,520.2 L590.3,519.8 L591.7,519.5 L593.0,519.2 L594.3,518.9 L595.7,518.6 L597.0,518.3 L598.4,517.9 L599.7,517.6 L601.0,517.3 L602.4,516.9 L603.7,516.6 L605.1,516.3 L606.4,515.9 L607.8,515.6 L609.1,515.2 L610.4,514.9 L611.8,514.5 L613.1,514.2 L614.5,513.8 L615.8,513.4 L617.1,513.1 L618.5,512.7 L619.8,512.3 L621.2,512.0 L622.5,511.6 L623.8,511.2 L625.2,510.8 L626.5,510.5 L627.9,510.1 L629.2,509.7 L630.6,509.3 L631.9,508.9 L633.2,508.5 L634.6,508.1 L635.9,507.7 L637.3,507.3 L638.6,506.9 L639.9,506.5 L641.3,506.0 L642.6,505.6 L644.0,505.2 L645.3,504.8 L646.6,504.3 L648.0,503.9 L649.3,503.5 L650.7,503.0 L652.0,502.6 L653.4,502.1 L654.7,501.7 L656.0,501.2 L657.4,500.8 L658.7,500.3 L660.1,499.9 L661.4,499.4 L662.7,498.9 L664.1,498.5 L665.4,498.0 L666.8,497.5 L668.1,497.0 L669.5,496.6 L670.8,496.1 L672.1,495.6 L673.5,495.1 L674.8,494.6 L676.2,494.1 L677.5,493.6 L678.8,493.1 L680.2,492.6 L681.5,492.0 L682.9,491.5 L684.2,491.0 L685.5,490.5 L686.9,489.9 L688.2,489.4 L689.6,488.9 L690.9,488.3 L692.3,487.8 L693.6,487.2 L694.9,486.7 L696.3,486.1 L697.6,485.6 L699.0,485.0 L700.3,484.5 L701.6,483.9 L703.0,483.3 L704.3,482.7 L705.7,482.1 L707.0,481.6 L708.3,481.0 L709.7,480.4 L711.0,479.8 L712.4,479.2 L713.7,478.6 L715.1,478.0 L716.4,477.4 L717.7,476.7 L719.1,476.1 L720.4,475.5 L721.8,474.9 L723.1,474.2 L724.4,473.6 L725.8,473.0 L727.1,472.3 L728.5,471.7 L729.8,471.0 L731.2,470.4 L732.5,469.7 L733.8,469.0 L735.2,468.4 L736.5,467.7 L737.9,467.0 L739.2,466.3 L740.5,465.7 L741.9,465.0 L743.2,464.3 L744.6,463.6 L745.9,462.9 L747.2,462.2 L748.6,461.5 L749.9,460.7 L751.3,460.0 L752.6,459.3 L754.0,458.6 L755.3,457.8 L756.6,457.1 L758.0,456.4 L759.3,455.6 L760.7,454.9 L762.0,454.1" fill="none" stroke="#FFFF00" stroke-width="6.4" stroke-linejoin="round" stroke-linecap="round"/><line x1="181.3" y1="498.0" x2="181.3" y2="637.5" stroke="#BDBDBE" stroke-width="6.6" stroke-linecap="round"/><path d="M181.3,498.0 L183.5,553.4 L183.5,553.4 L183.5,553.4 L183.5,553.4 L183.5,553.5 L183.5,553.5 L183.5,553.6 L183.5,553.6 L183.5,553.7 L183.6,553.8 L183.6,553.8 L183.6,553.9 L183.6,554.0 L183.6,554.1 L183.6,554.2 L183.7,554.4 L183.7,554.5 L183.7,554.6 L183.7,554.8 L183.8,554.9 L183.8,555.1 L183.8,555.2 L183.9,555.4 L183.9,555.6 L183.9,555.7 L184.0,555.9 L184.0,556.1 L184.0,556.3 L184.1,556.5 L184.1,556.7 L184.2,556.9 L184.2,557.1 L184.3,557.3 L184.3,557.5 L184.4,557.8 L184.4,558.0 L184.5,558.2 L184.5,558.4 L184.6,558.6 L184.6,558.9 L184.7,559.1 L184.7,559.3 L184.8,559.6 L184.9,559.8 L184.9,560.0 L185.0,560.3 L185.1,560.5 L185.1,560.7 L185.2,561.0 L185.3,561.2 L185.4,561.4 L185.4,561.7 L185.5,561.9 L185.6,562.1 L185.7,562.4 L185.7,562.6 L185.8,562.8 L185.9,563.1 L186.0,563.3 L186.1,563.5 L186.2,563.8 L186.3,564.0 L186.4,564.2 L186.4,564.4 L186.5,564.6 L186.6,564.9 L186.7,565.1 L186.8,565.3 L186.9,565.5 L187.0,565.7 L187.1,565.9 L187.2,566.1 L187.4,566.4 L187.5,566.6 L187.6,566.8 L187.7,567.0 L187.8,567.2 L187.9,567.4 L188.0,567.5 L188.1,567.7 L188.3,567.9 L188.4,568.1 L188.5,568.3 L188.6,568.5 L188.7,568.7 L188.9,568.8 L189.0,569.0 L189.1,569.2 L189.3,569.4 L189.4,569.5 L189.5,569.7 L189.7,569.9 L189.8,570.0 L189.9,570.2 L190.1,570.4 L190.2,570.5 L190.3,570.7 L190.5,570.8 L190.6,571.0 L190.8,571.1 L190.9,571.3 L191.1,571.4 L191.2,571.5 L191.4,571.7 L191.5,571.8 L191.7,572.0 L191.9,572.1 L192.0,572.2 L192.2,572.3 L192.3,572.5 L192.5,572.6 L192.7,572.7 L192.8,572.8 L193.0,573.0 L193.2,573.1 L193.3,573.2 L193.5,573.3 L193.7,573.4 L193.8,573.5 L194.0,573.6 L194.2,573.7 L194.4,573.8 L194.6,573.9 L194.7,574.0 L194.9,574.1 L195.1,574.2 L195.3,574.3 L195.5,574.4 L195.7,574.5 L195.9,574.6 L196.1,574.7 L196.3,574.8 L196.4,574.9 L196.6,574.9 L196.8,575.0 L197.0,575.1 L197.2,575.2 L197.4,575.2 L197.7,575.3 L197.9,575.4 L198.1,575.5 L198.3,575.5 L198.5,575.6 L198.7,575.7 L198.9,575.7 L199.1,575.8 L199.3,575.9 L199.6,575.9 L199.8,576.0 L200.0,576.0 L201.3,576.4 L202.7,576.6 L204.0,576.8 L205.4,577.0 L206.7,577.2 L208.0,577.3 L209.4,577.4 L210.7,577.5 L212.1,577.6 L213.4,577.6 L214.8,577.7 L216.1,577.7 L217.4,577.8 L218.8,577.8 L220.1,577.8 L221.5,577.8 L222.8,577.8 L224.1,577.9 L225.5,577.9 L226.8,577.9 L228.2,577.9 L229.5,577.8 L230.8,577.8 L232.2,577.8 L233.5,577.8 L234.9,577.8 L236.2,577.7 L237.6,577.7 L238.9,577.7 L240.2,577.7 L241.6,577.6 L242.9,577.6 L244.3,577.5 L245.6,577.5 L246.9,577.5 L248.3,577.4 L249.6,577.4 L251.0,577.3 L252.3,577.3 L253.7,577.2 L255.0,577.2 L256.3,577.1 L257.7,577.1 L259.0,577.0 L260.4,577.0 L261.7,576.9 L263.0,576.9 L264.4,576.8 L265.7,576.8 L267.1,576.7 L268.4,576.7 L269.7,576.6 L271.1,576.6 L272.4,576.5 L273.8,576.5 L275.1,576.4 L276.5,576.4 L277.8,576.3 L279.1,576.2 L280.5,576.2 L281.8,576.1 L283.2,576.1 L284.5,576.0 L285.8,576.0 L287.2,575.9 L288.5,575.9 L289.9,575.8 L291.2,575.7 L292.5,575.7 L293.9,575.6 L295.2,575.6 L296.6,575.5 L297.9,575.5 L299.3,575.4 L300.6,575.3 L301.9,575.3 L303.3,575.2 L304.6,575.1 L306.0,575.1 L307.3,575.0 L308.6,575.0 L310.0,574.9 L311.3,574.8 L312.7,574.8 L314.0,574.7 L315.4,574.6 L316.7,574.6 L318.0,574.5 L319.4,574.4 L320.7,574.3 L322.1,574.3 L323.4,574.2 L324.7,574.1 L326.1,574.1 L327.4,574.0 L328.8,573.9 L330.1,573.8 L331.4,573.7 L332.8,573.7 L334.1,573.6 L335.5,573.5 L336.8,573.4 L338.2,573.3 L339.5,573.3 L340.8,573.2 L342.2,573.1 L343.5,573.0 L344.9,572.9 L346.2,572.8 L347.5,572.7 L348.9,572.7 L350.2,572.6 L351.6,572.5 L352.9,572.4 L354.2,572.3 L355.6,572.2 L356.9,572.1 L358.3,572.0 L359.6,571.9 L361.0,571.8 L362.3,571.7 L363.6,571.6 L365.0,571.5 L366.3,571.4 L367.7,571.3 L369.0,571.2 L370.3,571.1 L371.7,571.0 L373.0,570.9 L374.4,570.7 L375.7,570.6 L377.1,570.5 L378.4,570.4 L379.7,570.3 L381.1,570.2 L382.4,570.0 L383.8,569.9 L385.1,569.8 L386.4,569.7 L387.8,569.6 L389.1,569.4 L390.5,569.3 L391.8,569.2 L393.1,569.0 L394.5,568.9 L395.8,568.8 L397.2,568.6 L398.5,568.5 L399.9,568.4 L401.2,568.2 L402.5,568.1 L403.9,568.0 L405.2,567.8 L406.6,567.7 L407.9,567.5 L409.2,567.4 L410.6,567.2 L411.9,567.1 L413.3,566.9 L414.6,566.8 L415.9,566.6 L417.3,566.5 L418.6,566.3 L420.0,566.1 L421.3,566.0 L422.7,565.8 L424.0,565.7 L425.3,565.5 L426.7,565.3 L428.0,565.2 L429.4,565.0 L430.7,564.8 L432.0,564.6 L433.4,564.5 L434.7,564.3 L436.1,564.1 L437.4,563.9 L438.7,563.7 L440.1,563.5 L441.4,563.4 L442.8,563.2 L444.1,563.0 L445.5,562.8 L446.8,562.6 L448.1,562.4 L449.5,562.2 L450.8,562.0 L452.2,561.8 L453.5,561.6 L454.8,561.4 L456.2,561.2 L457.5,561.0 L458.9,560.8 L460.2,560.6 L461.6,560.3 L462.9,560.1 L464.2,559.9 L465.6,559.7 L466.9,559.5 L468.3,559.2 L469.6,559.0 L470.9,558.8 L472.3,558.6 L473.6,558.3 L475.0,558.1 L476.3,557.9 L477.6,557.6 L479.0,557.4 L480.3,557.2 L481.7,556.9 L483.0,556.7 L484.4,556.4 L485.7,556.2 L487.0,555.9 L488.4,555.7 L489.7,555.4 L491.1,555.2 L492.4,554.9 L493.7,554.6 L495.1,554.4 L496.4,554.1 L497.8,553.9 L499.1,553.6 L500.4,553.3 L501.8,553.0 L503.1,552.8 L504.5,552.5 L505.8,552.2 L507.2,551.9 L508.5,551.7 L509.8,551.4 L511.2,551.1 L512.5,550.8 L513.9,550.5 L515.2,550.2 L516.5,549.9 L517.9,549.6 L519.2,549.3 L520.6,549.0 L521.9,548.7 L523.3,548.4 L524.6,548.1 L525.9,547.8 L527.3,547.5 L528.6,547.2 L530.0,546.9 L531.3,546.5 L532.6,546.2 L534.0,545.9 L535.3,545.6 L536.7,545.3 L538.0,544.9 L539.3,544.6 L540.7,544.3 L542.0,543.9 L543.4,543.6 L544.7,543.2 L546.1,542.9 L547.4,542.6 L548.7,542.2 L550.1,541.9 L551.4,541.5 L552.8,541.2 L554.1,540.8 L555.4,540.5 L556.8,540.1 L558.1,539.7 L559.5,539.4 L560.8,539.0 L562.1,538.6 L563.5,538.3 L564.8,537.9 L566.2,537.5 L567.5,537.1 L568.9,536.8 L570.2,536.4 L571.5,536.0 L572.9,535.6 L574.2,535.2 L575.6,534.8 L576.9,534.4 L578.2,534.0 L579.6,533.6 L580.9,533.2 L582.3,532.8 L583.6,532.4 L584.9,532.0 L586.3,531.6 L587.6,531.2 L589.0,530.8 L590.3,530.3 L591.7,529.9 L593.0,529.5 L594.3,529.1 L595.7,528.6 L597.0,528.2 L598.4,527.8 L599.7,527.3 L601.0,526.9 L602.4,526.5 L603.7,526.0 L605.1,525.6 L606.4,525.1 L607.8,524.7 L609.1,524.2 L610.4,523.8 L611.8,523.3 L613.1,522.9 L614.5,522.4 L615.8,521.9 L617.1,521.5 L618.5,521.0 L619.8,520.5 L621.2,520.0 L622.5,519.6 L623.8,519.1 L625.2,518.6 L626.5,518.1 L627.9,517.6 L629.2,517.1 L630.6,516.6 L631.9,516.1 L633.2,515.6 L634.6,515.1 L635.9,514.6 L637.3,514.1 L638.6,513.6 L639.9,513.1 L641.3,512.6 L642.6,512.1 L644.0,511.6 L645.3,511.0 L646.6,510.5 L648.0,510.0 L649.3,509.5 L650.7,508.9 L652.0,508.4 L653.4,507.8 L654.7,507.3 L656.0,506.8 L657.4,506.2 L658.7,505.7 L660.1,505.1 L661.4,504.6 L662.7,504.0 L664.1,503.4 L665.4,502.9 L666.8,502.3 L668.1,501.7 L669.5,501.2 L670.8,500.6 L672.1,500.0 L673.5,499.4 L674.8,498.9 L676.2,498.3 L677.5,497.7 L678.8,497.1 L680.2,496.5 L681.5,495.9 L682.9,495.3 L684.2,494.7 L685.5,494.1 L686.9,493.5 L688.2,492.9 L689.6,492.3 L690.9,491.6 L692.3,491.0 L693.6,490.4 L694.9,489.8 L696.3,489.2 L697.6,488.5 L699.0,487.9 L700.3,487.3 L701.6,486.6 L703.0,486.0 L704.3,485.3 L705.7,484.7 L707.0,484.0 L708.3,483.4 L709.7,482.7 L711.0,482.1 L712.4,481.4 L713.7,480.7 L715.1,480.1 L716.4,479.4 L717.7,478.7 L719.1,478.0 L720.4,477.3 L721.8,476.7 L723.1,476.0 L724.4,475.3 L725.8,474.6 L727.1,473.9 L728.5,473.2 L729.8,472.5 L731.2,471.8 L732.5,471.1 L733.8,470.4 L735.2,469.7 L736.5,468.9 L737.9,468.2 L739.2,467.5 L740.5,466.8 L741.9,466.0 L743.2,465.3 L744.6,464.6 L745.9,463.8 L747.2,463.1 L748.6,462.3 L749.9,461.6 L751.3,460.8 L752.6,460.1 L754.0,459.3 L755.3,458.6 L756.6,457.8 L758.0,457.0 L759.3,456.3 L760.7,455.5 L762.0,454.7" fill="none" stroke="#BDBDBE" stroke-width="6.4" stroke-linejoin="round" stroke-linecap="round"/><line x1="181.3" y1="583.7" x2="181.3" y2="637.5" stroke="#F84040" stroke-width="6.6" stroke-linecap="round"/><path d="M181.3,583.7 L182.0,597.4 L182.0,597.4 L182.0,597.5 L182.0,597.6 L182.0,597.7 L182.0,597.9 L182.0,598.1 L182.0,598.4 L182.1,598.6 L182.1,599.0 L182.1,599.3 L182.1,599.7 L182.1,600.1 L182.1,600.6 L182.2,601.0 L182.2,601.5 L182.2,602.1 L182.2,602.6 L182.3,603.2 L182.3,603.7 L182.3,604.3 L182.4,604.9 L182.4,605.5 L182.4,606.2 L182.5,606.8 L182.5,607.4 L182.5,608.1 L182.6,608.7 L182.6,609.4 L182.7,610.0 L182.7,610.7 L182.8,611.3 L182.8,612.0 L182.9,612.6 L182.9,613.3 L183.0,613.9 L183.1,614.5 L183.1,615.1 L183.2,615.7 L183.2,616.3 L183.3,616.9 L183.4,617.5 L183.4,618.0 L183.5,618.6 L183.6,619.1 L183.6,619.6 L183.7,620.2 L183.8,620.7 L183.9,621.1 L183.9,621.6 L184.0,622.1 L184.1,622.5 L184.2,622.9 L184.3,623.3 L184.4,623.7 L184.5,624.1 L184.5,624.5 L184.6,624.9 L184.7,625.2 L184.8,625.6 L184.9,625.9 L185.0,626.2 L185.1,626.5 L185.2,626.8 L185.3,627.0 L185.4,627.3 L185.5,627.5 L185.6,627.8 L185.7,628.0 L185.9,628.2 L186.0,628.4 L186.1,628.6 L186.2,628.8 L186.3,628.9 L186.4,629.1 L186.6,629.3 L186.7,629.4 L186.8,629.5 L186.9,629.7 L187.1,629.8 L187.2,629.9 L187.3,630.0 L187.5,630.1 L187.6,630.2 L187.7,630.3 L187.9,630.3 L188.0,630.4 L188.1,630.5 L188.3,630.5 L188.4,630.6 L188.6,630.6 L188.7,630.7 L188.9,630.7 L189.0,630.7 L189.2,630.7 L189.3,630.8 L189.5,630.8 L189.6,630.8 L189.8,630.8 L189.9,630.8 L190.1,630.8 L190.3,630.8 L190.4,630.9 L190.6,630.9 L190.8,630.9 L190.9,630.9 L191.1,630.9 L191.3,630.8 L191.5,630.8 L191.6,630.8 L191.8,630.8 L192.0,630.8 L192.2,630.8 L192.4,630.8 L192.5,630.8 L192.7,630.8 L192.9,630.8 L193.1,630.8 L193.3,630.7 L193.5,630.7 L193.7,630.7 L193.9,630.7 L194.1,630.7 L194.3,630.7 L194.5,630.6 L194.7,630.6 L194.9,630.6 L195.1,630.6 L195.3,630.6 L195.5,630.5 L195.7,630.5 L195.9,630.5 L196.1,630.4 L196.3,630.4 L196.6,630.4 L196.8,630.4 L197.0,630.3 L197.2,630.3 L197.4,630.3 L197.7,630.2 L197.9,630.2 L198.1,630.2 L198.3,630.1 L198.6,630.1 L198.8,630.1 L199.0,630.0 L199.3,630.0 L199.5,630.0 L199.8,629.9 L200.0,629.9 L201.3,629.6 L202.7,629.4 L204.0,629.1 L205.3,628.9 L206.7,628.6 L208.0,628.3 L209.3,628.1 L210.7,627.8 L212.0,627.5 L213.4,627.2 L214.7,626.9 L216.0,626.6 L217.4,626.3 L218.7,625.9 L220.0,625.6 L221.4,625.3 L222.7,625.0 L224.0,624.7 L225.4,624.4 L226.7,624.1 L228.0,623.7 L229.4,623.4 L230.7,623.1 L232.0,622.8 L233.4,622.5 L234.7,622.1 L236.1,621.8 L237.4,621.5 L238.7,621.2 L240.1,620.9 L241.4,620.6 L242.7,620.3 L244.1,619.9 L245.4,619.6 L246.7,619.3 L248.1,619.0 L249.4,618.7 L250.7,618.4 L252.1,618.1 L253.4,617.8 L254.7,617.5 L256.1,617.3 L257.4,617.0 L258.8,616.7 L260.1,616.4 L261.4,616.1 L262.8,615.8 L264.1,615.6 L265.4,615.3 L266.8,615.0 L268.1,614.7 L269.4,614.5 L270.8,614.2 L272.1,613.9 L273.4,613.7 L274.8,613.4 L276.1,613.1 L277.4,612.9 L278.8,612.6 L280.1,612.3 L281.5,612.1 L282.8,611.8 L284.1,611.6 L285.5,611.3 L286.8,611.0 L288.1,610.8 L289.5,610.5 L290.8,610.3 L292.1,610.0 L293.5,609.8 L294.8,609.5 L296.1,609.3 L297.5,609.0 L298.8,608.8 L300.1,608.5 L301.5,608.3 L302.8,608.0 L304.2,607.8 L305.5,607.5 L306.8,607.3 L308.2,607.0 L309.5,606.8 L310.8,606.5 L312.2,606.3 L313.5,606.0 L314.8,605.8 L316.2,605.6 L317.5,605.3 L318.8,605.1 L320.2,604.8 L321.5,604.6 L322.8,604.3 L324.2,604.1 L325.5,603.8 L326.9,603.6 L328.2,603.4 L329.5,603.1 L330.9,602.9 L332.2,602.6 L333.5,602.4 L334.9,602.1 L336.2,601.9 L337.5,601.6 L338.9,601.4 L340.2,601.2 L341.5,600.9 L342.9,600.7 L344.2,600.4 L345.6,600.2 L346.9,599.9 L348.2,599.7 L349.6,599.4 L350.9,599.2 L352.2,599.0 L353.6,598.7 L354.9,598.5 L356.2,598.2 L357.6,598.0 L358.9,597.7 L360.2,597.5 L361.6,597.2 L362.9,597.0 L364.2,596.7 L365.6,596.5 L366.9,596.2 L368.3,596.0 L369.6,595.7 L370.9,595.5 L372.3,595.2 L373.6,595.0 L374.9,594.7 L376.3,594.5 L377.6,594.2 L378.9,594.0 L380.3,593.7 L381.6,593.4 L382.9,593.2 L384.3,592.9 L385.6,592.7 L386.9,592.4 L388.3,592.2 L389.6,591.9 L391.0,591.6 L392.3,591.4 L393.6,591.1 L395.0,590.9 L396.3,590.6 L397.6,590.3 L399.0,590.1 L400.3,589.8 L401.6,589.5 L403.0,589.3 L404.3,589.0 L405.6,588.7 L407.0,588.4 L408.3,588.2 L409.6,587.9 L411.0,587.6 L412.3,587.4 L413.7,587.1 L415.0,586.8 L416.3,586.5 L417.7,586.2 L419.0,586.0 L420.3,585.7 L421.7,585.4 L423.0,585.1 L424.3,584.8 L425.7,584.6 L427.0,584.3 L428.3,584.0 L429.7,583.7 L431.0,583.4 L432.3,583.1 L433.7,582.8 L435.0,582.5 L436.4,582.2 L437.7,581.9 L439.0,581.7 L440.4,581.4 L441.7,581.1 L443.0,580.8 L444.4,580.5 L445.7,580.2 L447.0,579.9 L448.4,579.5 L449.7,579.2 L451.0,578.9 L452.4,578.6 L453.7,578.3 L455.0,578.0 L456.4,577.7 L457.7,577.4 L459.1,577.1 L460.4,576.7 L461.7,576.4 L463.1,576.1 L464.4,575.8 L465.7,575.5 L467.1,575.1 L468.4,574.8 L469.7,574.5 L471.1,574.2 L472.4,573.8 L473.7,573.5 L475.1,573.2 L476.4,572.8 L477.7,572.5 L479.1,572.2 L480.4,571.8 L481.8,571.5 L483.1,571.1 L484.4,570.8 L485.8,570.5 L487.1,570.1 L488.4,569.8 L489.8,569.4 L491.1,569.1 L492.4,568.7 L493.8,568.4 L495.1,568.0 L496.4,567.7 L497.8,567.3 L499.1,566.9 L500.4,566.6 L501.8,566.2 L503.1,565.8 L504.5,565.5 L505.8,565.1 L507.1,564.7 L508.5,564.4 L509.8,564.0 L511.1,563.6 L512.5,563.3 L513.8,562.9 L515.1,562.5 L516.5,562.1 L517.8,561.7 L519.1,561.3 L520.5,561.0 L521.8,560.6 L523.1,560.2 L524.5,559.8 L525.8,559.4 L527.2,559.0 L528.5,558.6 L529.8,558.2 L531.2,557.8 L532.5,557.4 L533.8,557.0 L535.2,556.6 L536.5,556.2 L537.8,555.8 L539.2,555.4 L540.5,555.0 L541.8,554.6 L543.2,554.2 L544.5,553.7 L545.8,553.3 L547.2,552.9 L548.5,552.5 L549.9,552.0 L551.2,551.6 L552.5,551.2 L553.9,550.8 L555.2,550.3 L556.5,549.9 L557.9,549.5 L559.2,549.0 L560.5,548.6 L561.9,548.2 L563.2,547.7 L564.5,547.3 L565.9,546.8 L567.2,546.4 L568.5,545.9 L569.9,545.5 L571.2,545.0 L572.6,544.6 L573.9,544.1 L575.2,543.6 L576.6,543.2 L577.9,542.7 L579.2,542.3 L580.6,541.8 L581.9,541.3 L583.2,540.8 L584.6,540.4 L585.9,539.9 L587.2,539.4 L588.6,538.9 L589.9,538.5 L591.2,538.0 L592.6,537.5 L593.9,537.0 L595.3,536.5 L596.6,536.0 L597.9,535.5 L599.3,535.0 L600.6,534.5 L601.9,534.0 L603.3,533.5 L604.6,533.0 L605.9,532.5 L607.3,532.0 L608.6,531.5 L609.9,531.0 L611.3,530.5 L612.6,530.0 L613.9,529.4 L615.3,528.9 L616.6,528.4 L618.0,527.9 L619.3,527.3 L620.6,526.8 L622.0,526.3 L623.3,525.8 L624.6,525.2 L626.0,524.7 L627.3,524.1 L628.6,523.6 L630.0,523.1 L631.3,522.5 L632.6,522.0 L634.0,521.4 L635.3,520.9 L636.7,520.3 L638.0,519.7 L639.3,519.2 L640.7,518.6 L642.0,518.1 L643.3,517.5 L644.7,516.9 L646.0,516.3 L647.3,515.8 L648.7,515.2 L650.0,514.6 L651.3,514.0 L652.7,513.5 L654.0,512.9 L655.3,512.3 L656.7,511.7 L658.0,511.1 L659.4,510.5 L660.7,509.9 L662.0,509.3 L663.4,508.7 L664.7,508.1 L666.0,507.5 L667.4,506.9 L668.7,506.3 L670.0,505.7 L671.4,505.0 L672.7,504.4 L674.0,503.8 L675.4,503.2 L676.7,502.6 L678.0,501.9 L679.4,501.3 L680.7,500.7 L682.1,500.0 L683.4,499.4 L684.7,498.8 L686.1,498.1 L687.4,497.5 L688.7,496.8 L690.1,496.2 L691.4,495.5 L692.7,494.9 L694.1,494.2 L695.4,493.5 L696.7,492.9 L698.1,492.2 L699.4,491.6 L700.7,490.9 L702.1,490.2 L703.4,489.5 L704.8,488.9 L706.1,488.2 L707.4,487.5 L708.8,486.8 L710.1,486.1 L711.4,485.4 L712.8,484.7 L714.1,484.0 L715.4,483.3 L716.8,482.6 L718.1,481.9 L719.4,481.2 L720.8,480.5 L722.1,479.8 L723.4,479.1 L724.8,478.4 L726.1,477.7 L727.5,476.9 L728.8,476.2 L730.1,475.5 L731.5,474.8 L732.8,474.0 L734.1,473.3 L735.5,472.6 L736.8,471.8 L738.1,471.1 L739.5,470.3 L740.8,469.6 L742.1,468.8 L743.5,468.1 L744.8,467.3 L746.1,466.6 L747.5,465.8 L748.8,465.0 L750.2,464.3 L751.5,463.5 L752.8,462.7 L754.2,461.9 L755.5,461.2 L756.8,460.4 L758.2,459.6 L759.5,458.8" fill="none" stroke="#F84040" stroke-width="6.4" stroke-linejoin="round" stroke-linecap="round"/><line x1="766.6" y1="15.7" x2="766.6" y2="637" stroke="#F84040" stroke-width="6.2"/><polygon points="759.5,452 764,452 764,590 762.5,540" fill="#F84040"/><rect x="376" y="432.7" width="13.4" height="150" fill="#F84040"/><polygon points="363,579.8 402.4,579.8 382.7,619" fill="#F84040"/><rect x="178.8" y="774.2" width="589.2" height="619.8999999999999" fill="none" stroke="#000" stroke-width="5.4" stroke-linejoin="round"/><line x1="178.8" y1="877.5" x2="187.3" y2="877.5" stroke="#000" stroke-width="5.2"/><line x1="178.8" y1="980.8" x2="190.3" y2="980.8" stroke="#000" stroke-width="5.2"/><line x1="178.8" y1="1084.2" x2="187.3" y2="1084.2" stroke="#000" stroke-width="5.2"/><line x1="178.8" y1="1187.5" x2="190.3" y2="1187.5" stroke="#000" stroke-width="5.2"/><line x1="178.8" y1="1290.8" x2="187.3" y2="1290.8" stroke="#000" stroke-width="5.2"/><line x1="260.5" y1="1394.1" x2="260.5" y2="1385.6" stroke="#000" stroke-width="5.4"/><line x1="342.2" y1="1394.1" x2="342.2" y2="1383.4" stroke="#000" stroke-width="5.4"/><line x1="423.9" y1="1394.1" x2="423.9" y2="1385.6" stroke="#000" stroke-width="5.4"/><line x1="505.6" y1="1394.1" x2="505.6" y2="1383.4" stroke="#000" stroke-width="5.4"/><line x1="587.3" y1="1394.1" x2="587.3" y2="1385.6" stroke="#000" stroke-width="5.4"/><line x1="669.0" y1="1394.1" x2="669.0" y2="1383.4" stroke="#000" stroke-width="5.4"/><line x1="750.7" y1="1394.1" x2="750.7" y2="1385.6" stroke="#000" stroke-width="5.4"/><path d="M197.0,1177.5 L197.3,1179.4 L197.7,1181.3 L198.1,1183.3 L198.4,1185.2 L198.8,1187.1 L199.2,1189.0 L199.6,1191.0 L200.0,1192.9 L200.4,1194.8 L200.8,1196.7 L201.2,1198.7 L201.7,1200.6 L202.1,1202.5 L202.5,1204.4 L203.0,1206.3 L203.4,1208.3 L203.9,1210.2 L204.3,1212.1 L204.8,1214.0 L205.3,1215.9 L205.7,1217.8 L206.2,1219.8 L206.7,1221.7 L207.2,1223.6 L207.8,1225.5 L208.3,1227.4 L208.8,1229.3 L209.4,1231.2 L209.9,1233.1 L210.5,1235.0 L211.1,1236.8 L211.7,1238.7 L212.3,1240.6 L212.9,1242.5 L213.5,1244.4 L214.1,1246.2 L214.8,1248.1 L215.4,1250.0 L216.1,1251.8 L216.8,1253.7 L217.5,1255.5 L218.2,1257.4 L218.9,1259.2 L219.6,1261.1 L220.4,1262.9 L221.1,1264.7 L221.9,1266.5 L222.7,1268.4 L223.5,1270.2 L224.3,1272.0 L225.2,1273.8 L226.0,1275.5 L226.9,1277.3 L227.8,1279.0 L228.7,1280.8 L229.6,1282.5 L230.6,1284.2 L231.5,1285.9 L232.5,1287.6 L233.5,1289.3 L234.6,1290.9 L235.6,1292.6 L236.7,1294.2 L237.8,1295.8 L238.9,1297.4 L240.0,1298.9 L241.1,1300.4 L242.3,1301.9 L243.5,1303.4 L244.7,1304.9 L246.0,1306.3 L247.3,1307.7 L248.6,1309.1 L249.9,1310.5 L251.2,1311.8 L252.6,1313.1 L254.0,1314.4 L255.5,1315.6 L256.9,1316.8 L258.4,1318.0 L259.9,1319.1 L261.4,1320.2 L263.0,1321.3 L264.6,1322.4 L266.2,1323.4 L267.8,1324.4 L269.5,1325.4 L271.1,1326.3 L272.8,1327.2 L274.6,1328.1 L276.3,1329.0 L278.0,1329.8 L279.8,1330.6 L281.6,1331.4 L283.4,1332.1 L285.2,1332.9 L287.0,1333.6 L288.8,1334.3 L290.7,1334.9 L292.5,1335.6 L294.4,1336.2 L296.3,1336.8 L298.1,1337.4 L300.0,1337.9 L301.9,1338.5 L303.8,1339.0 L305.7,1339.5 L307.6,1340.0 L309.5,1340.4 L311.5,1340.9 L313.4,1341.3 L315.3,1341.7 L317.3,1342.1 L319.2,1342.5 L321.1,1342.8 L323.1,1343.2 L325.0,1343.5 L327.0,1343.8 L328.9,1344.1 L330.9,1344.4 L332.8,1344.7 L334.8,1345.0 L336.8,1345.2" fill="none" stroke="#BDBDBE" stroke-width="7" stroke-linejoin="round" stroke-linecap="round"/><path d="M182.2,865.9 L182.2,867.9 L182.3,869.9 L182.3,871.8 L182.3,873.8 L182.3,875.7 L182.4,877.7 L182.4,879.7 L182.4,881.6 L182.4,883.6 L182.5,885.5 L182.5,887.5 L182.5,889.5 L182.5,891.4 L182.5,893.4 L182.6,895.3 L182.6,897.3 L182.6,899.3 L182.6,901.2 L182.6,903.2 L182.6,905.1 L182.6,907.1 L182.7,909.1 L182.7,911.0 L182.7,913.0 L182.7,914.9 L182.7,916.9 L182.7,918.9 L182.7,920.8 L182.7,922.8 L182.7,924.7 L182.8,926.7 L182.8,928.7 L182.8,930.6 L182.8,932.6 L182.8,934.5 L182.8,936.5 L182.8,938.5 L182.8,940.4 L182.8,942.4 L182.8,944.3 L182.9,946.3 L182.9,948.3 L182.9,950.2 L182.9,952.2 L182.9,954.1 L182.9,956.1 L182.9,958.0 L182.9,960.0 L183.0,962.0 L183.0,963.9 L183.0,965.9 L183.0,967.8 L183.0,969.8 L183.0,971.8 L183.1,973.7 L183.1,975.7 L183.1,977.6 L183.1,979.6 L183.2,981.5 L183.2,983.5 L183.2,985.5 L183.2,987.4 L183.3,989.4 L183.3,991.3 L183.3,993.3 L183.4,995.2 L183.4,997.2 L183.4,999.1 L183.5,1001.1 L183.5,1003.1 L183.5,1005.0 L183.6,1007.0 L183.6,1008.9 L183.7,1010.9 L183.7,1012.8 L183.8,1014.8 L183.8,1016.7 L183.9,1018.7 L183.9,1020.6 L184.0,1022.6 L184.0,1024.5 L184.1,1026.5 L184.2,1028.5 L184.2,1030.4 L184.3,1032.4 L184.4,1034.3 L184.4,1036.3 L184.5,1038.2 L184.6,1040.2 L184.7,1042.1 L184.7,1044.1 L184.8,1046.0 L184.9,1048.0 L185.0,1049.9 L185.1,1051.9 L185.2,1053.8 L185.3,1055.8 L185.4,1057.7 L185.5,1059.7 L185.6,1061.6 L185.7,1063.6 L185.8,1065.5 L185.9,1067.5 L186.0,1069.4 L186.2,1071.3 L186.3,1073.3 L186.4,1075.2 L186.5,1077.2 L186.7,1079.1 L186.8,1081.1 L187.0,1083.0 L187.1,1085.0 L187.2,1086.9 L187.4,1088.9 L187.6,1090.8 L187.7,1092.7 L187.9,1094.7 L188.0,1096.6 L188.2,1098.6 L188.4,1100.5 L188.6,1102.5 L188.7,1104.4 L188.9,1106.3 L189.1,1108.3 L189.3,1110.2 L189.5,1112.2 L189.7,1114.1 L189.9,1116.0 L190.1,1118.0 L190.3,1119.9 L190.5,1121.9 L190.8,1123.8 L191.0,1125.7 L191.2,1127.7 L191.4,1129.6 L191.7,1131.5 L191.9,1133.5 L192.2,1135.4 L192.4,1137.4 L192.7,1139.3 L192.9,1141.2 L193.2,1143.2 L193.5,1145.1 L193.7,1147.0 L194.0,1149.0 L194.3,1150.9 L194.6,1152.8 L194.9,1154.8 L195.2,1156.7 L195.5,1158.6 L195.8,1160.6 L196.1,1162.5 L196.4,1164.4 L196.8,1166.3 L197.1,1168.3 L197.4,1170.2 L197.8,1172.1 L198.1,1174.1 L198.5,1176.0 L198.8,1177.9 L199.2,1179.8 L199.6,1181.8 L199.9,1183.7 L200.3,1185.6 L200.7,1187.5 L201.1,1189.5 L201.5,1191.4 L201.9,1193.3 L202.3,1195.2 L202.7,1197.2 L203.2,1199.1 L203.6,1201.0 L204.0,1202.9 L204.5,1204.8 L204.9,1206.8 L205.4,1208.7 L205.8,1210.6 L206.3,1212.5 L206.8,1214.4 L207.2,1216.3 L207.7,1218.3 L208.2,1220.2 L208.7,1222.1 L209.3,1224.0 L209.8,1225.9 L210.3,1227.8 L210.9,1229.7 L211.4,1231.6 L212.0,1233.5 L212.6,1235.3 L213.2,1237.2 L213.8,1239.1 L214.4,1241.0 L215.0,1242.9 L215.6,1244.7 L216.3,1246.6 L216.9,1248.5 L217.6,1250.3 L218.3,1252.2 L219.0,1254.0 L219.7,1255.9 L220.4,1257.7 L221.1,1259.6 L221.9,1261.4 L222.6,1263.2 L223.4,1265.0 L224.2,1266.9 L225.0,1268.7 L225.8,1270.5 L226.7,1272.3 L227.5,1274.0 L228.4,1275.8 L229.3,1277.5 L230.2,1279.3 L231.1,1281.0 L232.1,1282.7 L233.0,1284.4 L234.0,1286.1 L235.0,1287.8 L236.1,1289.4 L237.1,1291.1 L238.2,1292.7 L239.3,1294.3 L240.4,1295.9 L241.5,1297.4 L242.6,1298.9 L243.8,1300.4 L245.0,1301.9 L246.2,1303.4 L247.5,1304.8 L248.8,1306.2 L250.1,1307.6 L251.4,1309.0 L252.7,1310.3 L254.1,1311.6 L255.5,1312.9 L257.0,1314.1 L258.4,1315.3 L259.9,1316.5 L261.4,1317.6 L262.9,1318.7 L264.5,1319.8 L266.1,1320.9 L267.7,1321.9 L269.3,1322.9 L271.0,1323.9 L272.6,1324.8 L274.3,1325.7 L276.1,1326.6 L277.8,1327.5 L279.5,1328.3 L281.3,1329.1 L283.1,1329.9 L284.9,1330.6 L286.7,1331.4 L288.5,1332.1 L290.3,1332.8 L292.2,1333.4 L294.0,1334.1 L295.9,1334.7 L297.8,1335.3 L299.6,1335.9 L301.5,1336.4 L303.4,1337.0 L305.3,1337.5 L307.2,1338.0 L309.1,1338.5 L311.0,1338.9 L313.0,1339.4 L314.9,1339.8 L316.8,1340.2 L318.8,1340.6 L320.7,1341.0 L322.6,1341.3 L324.6,1341.7 L326.5,1342.0 L328.5,1342.3 L330.4,1342.6 L332.4,1342.9 L334.3,1343.2 L336.3,1343.5 L338.3,1343.7 L340.2,1344.0 L342.2,1344.2 L344.2,1344.4 L346.1,1344.7 L348.1,1344.9 L350.1,1345.1 L352.1,1345.3 L354.0,1345.4 L356.0,1345.6 L358.0,1345.8 L360.0,1346.0 L361.9,1346.1 L363.9,1346.3 L365.9,1346.4 L367.9,1346.6 L369.8,1346.7 L371.8,1346.8 L373.8,1347.0 L375.8,1347.1 L377.7,1347.2 L379.7,1347.3 L381.7,1347.4 L383.6,1347.6 L385.6,1347.7 L387.6,1347.8 L389.5,1347.9 L391.5,1348.0 L393.4,1348.1 L395.4,1348.2 L397.4,1348.3 L399.3,1348.4 L401.3,1348.5 L403.2,1348.5 L405.2,1348.6 L407.1,1348.7 L409.1,1348.8 L411.1,1348.9 L413.0,1348.9 L415.0,1349.0 L416.9,1349.1 L418.9,1349.1 L420.8,1349.2 L422.8,1349.2 L424.7,1349.3 L426.7,1349.4 L428.6,1349.4 L430.6,1349.5 L432.5,1349.5 L434.5,1349.6 L436.4,1349.6 L438.4,1349.6 L440.3,1349.7 L442.3,1349.7 L444.2,1349.8 L446.2,1349.8 L448.1,1349.8 L450.1,1349.8 L452.0,1349.9 L453.9,1349.9 L455.9,1349.9 L457.8,1349.9 L459.8,1350.0 L461.7,1350.0 L463.7,1350.0 L465.6,1350.0 L467.6,1350.0 L469.5,1350.0 L471.5,1350.1 L473.4,1350.1 L475.3,1350.1 L477.3,1350.1 L479.2,1350.1 L481.2,1350.1 L483.1,1350.1 L485.1,1350.1 L487.0,1350.1 L489.0,1350.1 L490.9,1350.1 L492.9,1350.1 L494.8,1350.1 L496.8,1350.1 L498.7,1350.1 L500.7,1350.1 L502.6,1350.1 L504.6,1350.1 L506.5,1350.1 L508.5,1350.1 L510.4,1350.1 L512.4,1350.1 L514.3,1350.1 L516.3,1350.0 L518.2,1350.0 L520.2,1350.0 L522.1,1350.0 L524.1,1350.0 L526.0,1350.0 L528.0,1350.0 L529.9,1350.0 L531.9,1349.9 L533.8,1349.9 L535.8,1349.9 L537.7,1349.9 L539.7,1349.9 L541.7,1349.8 L543.6,1349.8 L545.6,1349.8 L547.5,1349.8 L549.5,1349.7 L551.4,1349.7 L553.4,1349.7 L555.4,1349.7 L557.3,1349.6 L559.3,1349.6 L561.2,1349.6 L563.2,1349.5 L565.1,1349.5 L567.1,1349.5 L569.1,1349.4 L571.0,1349.4 L573.0,1349.4 L574.9,1349.3 L576.9,1349.3 L578.8,1349.3 L580.8,1349.2 L582.8,1349.2 L584.7,1349.1 L586.7,1349.1 L588.6,1349.0 L590.6,1349.0 L592.6,1349.0 L594.5,1348.9 L596.5,1348.9 L598.4,1348.8 L600.4,1348.8 L602.4,1348.7 L604.3,1348.7 L606.3,1348.6 L608.2,1348.5 L610.2,1348.5 L612.2,1348.4 L614.1,1348.4 L616.1,1348.3 L618.0,1348.3 L620.0,1348.2 L622.0,1348.1 L623.9,1348.1 L625.9,1348.0 L627.8,1347.9 L629.8,1347.9 L631.8,1347.8 L633.7,1347.7 L635.7,1347.7 L637.6,1347.6 L639.6,1347.5 L641.6,1347.4 L643.5,1347.4 L645.5,1347.3 L647.4,1347.2 L649.4,1347.1 L651.4,1347.0 L653.3,1347.0 L655.3,1346.9 L657.2,1346.8 L659.2,1346.7 L661.1,1346.6 L663.1,1346.5 L665.1,1346.4 L667.0,1346.3 L669.0,1346.3 L670.9,1346.2 L672.9,1346.1 L674.8,1346.0 L676.8,1345.9 L678.8,1345.8 L680.7,1345.7 L682.7,1345.6 L684.6,1345.5 L686.6,1345.4 L688.5,1345.3 L690.5,1345.2 L692.4,1345.0 L694.4,1344.9 L696.3,1344.8 L698.3,1344.7 L700.2,1344.6 L702.2,1344.5 L704.2,1344.4 L706.1,1344.2 L708.1,1344.1 L710.0,1344.0 L712.0,1343.9 L713.9,1343.8 L715.9,1343.6 L717.8,1343.5 L719.8,1343.4 L721.7,1343.3 L723.7,1343.1 L725.6,1343.0 L727.6,1342.9 L729.5,1342.7 L731.4,1342.6 L733.4,1342.4 L735.3,1342.3 L737.3,1342.2 L739.2,1342.0 L741.2,1341.9 L743.1,1341.7 L745.1,1341.6 L747.0,1341.4 L749.0,1341.3 L750.9,1341.1 L752.8,1341.0 L754.8,1340.8 L756.7,1340.7 L758.7,1340.5 L760.6,1340.3 L762.5,1340.2" fill="none" stroke="#F84040" stroke-width="7" stroke-linejoin="round" stroke-linecap="round"/><polygon points="178.2,866 184.6,866 184.8,1100 183.6,1300 181.6,1394 178.2,1394" fill="#F84040"/><circle cx="181.4" cy="866" r="3.2" fill="#F84040"/><line x1="767.3" y1="1029.6" x2="767.3" y2="1394" stroke="#F84040" stroke-width="5.6"/><text id="a_l1" x="193.90" y="58.90" font-size="42" fill="#000" style="font-family:'Liberation Serif','Times New Roman',serif;font-weight:bold" textLength="389.20" lengthAdjust="spacing">k=10 (TypeB+C, β=5)</text><text id="a_l2" x="193.60" y="107.30" font-size="42" fill="#000" style="font-family:'Liberation Serif','Times New Roman',serif;font-weight:bold" textLength="427.68" lengthAdjust="spacing">N<tspan font-size="28.5" dy="9">A</tspan><tspan dy="-9">(P-col)= 8.0×10</tspan><tspan font-size="27" dy="-13.5">17</tspan><tspan dy="13.5">cm</tspan><tspan font-size="27" dy="-13.5">-3</tspan></text><text id="a_l3" x="192.60" y="156.40" font-size="42" fill="#000" style="font-family:'Liberation Serif','Times New Roman',serif;font-weight:bold" textLength="470.06" lengthAdjust="spacing">J<tspan font-size="28.5" dy="8.5">on</tspan><tspan dy="-8.5">= 80A/cm</tspan><tspan font-size="27" dy="-13.5">2</tspan><tspan dy="13.5">, T</tspan><tspan font-size="27" dy="7.5">amb</tspan><tspan dy="-7.5">= 300K</tspan></text><text id="a_leg" x="262.40" y="320.20" font-size="42" fill="#000" style="font-family:'Liberation Serif','Times New Roman',serif;font-weight:bold" textLength="476.27" lengthAdjust="spacing">R<tspan font-size="27.5" dy="8">pf</tspan><tspan dy="-8">= R</tspan><tspan font-size="28.5" dy="8">1</tspan><tspan dy="-8">&gt;</tspan><tspan dy="0" fill="#80D43F">R</tspan><tspan font-size="28.5" dy="8" fill="#80D43F">2</tspan><tspan dy="-8">&gt;</tspan><tspan dy="0" fill="#1E1EF5">R</tspan><tspan font-size="28.5" dy="8" fill="#1E1EF5">3</tspan><tspan dy="-8">&gt;</tspan><tspan dy="0" fill="#FFFF00">R</tspan><tspan font-size="28.5" dy="8" fill="#FFFF00">4</tspan><tspan dy="-8">&gt;</tspan><tspan dy="0" fill="#BDBDBE">R</tspan><tspan font-size="28.5" dy="8" fill="#BDBDBE">5</tspan><tspan dy="-8">&gt;</tspan><tspan dy="0" fill="#F84040">R</tspan><tspan font-size="28.5" dy="8" fill="#F84040">6</tspan><tspan dy="-8"></tspan></text><text id="a_low" x="391.60" y="417.30" font-size="41" fill="#F84040" style="font-family:'Liberation Serif','Times New Roman',serif;font-weight:bold" textLength="166.27" lengthAdjust="spacing">lower R<tspan font-size="27.5" dy="7.7">pf</tspan></text><text id="a_lab" x="710.00" y="70.00" font-size="34" fill="#000" style="font-family:'Liberation Sans',Arial,sans-serif" textLength="39.56" lengthAdjust="spacing">(a)</text><text id="b_l1" x="197.40" y="823.30" font-size="42" fill="#000" style="font-family:'Liberation Serif','Times New Roman',serif;font-weight:bold" textLength="389.00" lengthAdjust="spacing">k=10 (TypeB+C, β=5)</text><text id="b_l2" x="197.40" y="871.40" font-size="42" fill="#000" style="font-family:'Liberation Serif','Times New Roman',serif;font-weight:bold" textLength="427.07" lengthAdjust="spacing">N<tspan font-size="28.5" dy="9">A</tspan><tspan dy="-9">(P-col)= 8.0×10</tspan><tspan font-size="27" dy="-13.5">17</tspan><tspan dy="13.5">cm</tspan><tspan font-size="27" dy="-13.5">-3</tspan></text><text id="b_l3" x="195.50" y="919.50" font-size="42" fill="#000" style="font-family:'Liberation Serif','Times New Roman',serif;font-weight:bold" textLength="512.46" lengthAdjust="spacing">J<tspan font-size="28.5" dy="8.5">on</tspan><tspan dy="-8.5">= 6000A/cm</tspan><tspan font-size="27" dy="-13.5">2</tspan><tspan dy="13.5">, T</tspan><tspan font-size="27" dy="7.5">amb</tspan><tspan dy="-7.5">= 300K</tspan></text><text id="b_leg" x="245.00" y="1104.50" font-size="42" fill="#000" style="font-family:'Liberation Serif','Times New Roman',serif;font-weight:bold" textLength="476.67" lengthAdjust="spacing">R<tspan font-size="27.5" dy="8">pf</tspan><tspan dy="-8">= R</tspan><tspan font-size="28.5" dy="8">1</tspan><tspan dy="-8">&gt;</tspan><tspan dy="0" fill="#80D43F">R</tspan><tspan font-size="28.5" dy="8" fill="#80D43F">2</tspan><tspan dy="-8">&gt;</tspan><tspan dy="0" fill="#1E1EF5">R</tspan><tspan font-size="28.5" dy="8" fill="#1E1EF5">3</tspan><tspan dy="-8">&gt;</tspan><tspan dy="0" fill="#FFFF00">R</tspan><tspan font-size="28.5" dy="8" fill="#FFFF00">4</tspan><tspan dy="-8">&gt;</tspan><tspan dy="0" fill="#BDBDBE">R</tspan><tspan font-size="28.5" dy="8" fill="#BDBDBE">5</tspan><tspan dy="-8">&gt;</tspan><tspan dy="0" fill="#F84040">R</tspan><tspan font-size="28.5" dy="8" fill="#F84040">6</tspan><tspan dy="-8"></tspan></text><text id="b_lab" x="710.00" y="825.30" font-size="34" fill="#000" style="font-family:'Liberation Sans',Arial,sans-serif" textLength="41.76" lengthAdjust="spacing">(b)</text><text id="a_y5" x="42.80" y="27.90" font-size="39" fill="#000" style="font-family:'Liberation Serif','Times New Roman',serif;font-weight:bold" textLength="104.55" lengthAdjust="spacing">5E+16</text><text id="a_y4" x="43.80" y="152.20" font-size="39" fill="#000" style="font-family:'Liberation Serif','Times New Roman',serif;font-weight:bold" textLength="103.55" lengthAdjust="spacing">4E+16</text><text id="a_y3" x="42.80" y="276.20" font-size="39" fill="#000" style="font-family:'Liberation Serif','Times New Roman',serif;font-weight:bold" textLength="104.55" lengthAdjust="spacing">3E+16</text><text id="a_y2" x="42.80" y="400.20" font-size="39" fill="#000" style="font-family:'Liberation Serif','Times New Roman',serif;font-weight:bold" textLength="104.55" lengthAdjust="spacing">2E+16</text><text id="a_y1" x="41.80" y="524.20" font-size="39" fill="#000" style="font-family:'Liberation Serif','Times New Roman',serif;font-weight:bold" textLength="105.55" lengthAdjust="spacing">1E+16</text><text id="a_y0" x="147.40" y="648.20" font-size="39" fill="#000" text-anchor="end" style="font-family:'Liberation Serif','Times New Roman',serif;font-weight:bold">0</text><text id="b_y15" x="15.30" y="786.70" font-size="39" fill="#000" style="font-family:'Liberation Serif','Times New Roman',serif;font-weight:bold" textLength="132.40" lengthAdjust="spacing">1.5E+18</text><text id="b_y10" x="147.10" y="993.30" font-size="39" fill="#000" text-anchor="end" style="font-family:'Liberation Serif','Times New Roman',serif;font-weight:bold">1E+18</text><text id="b_y05" x="147.10" y="1199.90" font-size="39" fill="#000" text-anchor="end" style="font-family:'Liberation Serif','Times New Roman',serif;font-weight:bold">5E+17</text><text id="b_y0" x="148.10" y="1406.50" font-size="39" fill="#000" text-anchor="end" style="font-family:'Liberation Serif','Times New Roman',serif;font-weight:bold">0</text><text id="a_x0" x="178.80" y="693.30" font-size="38" fill="#000" text-anchor="middle" style="font-family:'Liberation Serif','Times New Roman',serif;font-weight:bold">0</text><text id="a_x100" x="342.45" y="693.30" font-size="38" fill="#000" text-anchor="middle" style="font-family:'Liberation Serif','Times New Roman',serif;font-weight:bold">100</text><text id="a_x200" x="506.50" y="693.30" font-size="38" fill="#000" text-anchor="middle" style="font-family:'Liberation Serif','Times New Roman',serif;font-weight:bold">200</text><text id="a_x300" x="669.60" y="693.30" font-size="38" fill="#000" text-anchor="middle" style="font-family:'Liberation Serif','Times New Roman',serif;font-weight:bold">300</text><text id="a_cat" x="151.10" y="666.00" font-size="32" fill="#000" style="font-family:'Liberation Serif','Times New Roman',serif;font-weight:bold" textLength="119.96" lengthAdjust="spacing">Cathode</text><text id="a_ano" x="705.00" y="666.60" font-size="32" fill="#000" style="font-family:'Liberation Serif','Times New Roman',serif;font-weight:bold" textLength="90.11" lengthAdjust="spacing">Anode</text><text id="a_dep" x="381.50" y="730.20" font-size="38" fill="#000" style="font-family:'Liberation Serif','Times New Roman',serif;font-weight:bold" textLength="183.83" lengthAdjust="spacing">Depth (um)</text><text id="b_x0" x="178.80" y="1450.60" font-size="38" fill="#000" text-anchor="middle" style="font-family:'Liberation Serif','Times New Roman',serif;font-weight:bold">0</text><text id="b_x100" x="342.45" y="1450.60" font-size="38" fill="#000" text-anchor="middle" style="font-family:'Liberation Serif','Times New Roman',serif;font-weight:bold">100</text><text id="b_x200" x="506.50" y="1450.60" font-size="38" fill="#000" text-anchor="middle" style="font-family:'Liberation Serif','Times New Roman',serif;font-weight:bold">200</text><text id="b_x300" x="669.60" y="1450.60" font-size="38" fill="#000" text-anchor="middle" style="font-family:'Liberation Serif','Times New Roman',serif;font-weight:bold">300</text><text id="b_cat" x="151.10" y="1423.30" font-size="32" fill="#000" style="font-family:'Liberation Serif','Times New Roman',serif;font-weight:bold" textLength="119.96" lengthAdjust="spacing">Cathode</text><text id="b_ano" x="705.00" y="1423.90" font-size="32" fill="#000" style="font-family:'Liberation Serif','Times New Roman',serif;font-weight:bold" textLength="90.11" lengthAdjust="spacing">Anode</text><text id="b_dep" x="381.50" y="1487.50" font-size="38" fill="#000" style="font-family:'Liberation Serif','Times New Roman',serif;font-weight:bold" textLength="183.83" lengthAdjust="spacing">Depth (um)</text><text id="a_ylab" x="-519.40" y="28.90" font-size="39" fill="#000" transform="rotate(-90)" style="font-family:'Liberation Serif','Times New Roman',serif;font-weight:bold" textLength="355.39" lengthAdjust="spacing">Carrier density (cm<tspan font-size="26" dy="-14">-3</tspan><tspan dy="14">)</tspan></text><text id="b_ylab" x="-1275.70" y="28.90" font-size="39" fill="#000" transform="rotate(-90)" style="font-family:'Liberation Serif','Times New Roman',serif;font-weight:bold" textLength="354.39" lengthAdjust="spacing">Carrier density (cm<tspan font-size="26" dy="-14">-3</tspan><tspan dy="14">)</tspan></text>
</svg>
</body></html>
